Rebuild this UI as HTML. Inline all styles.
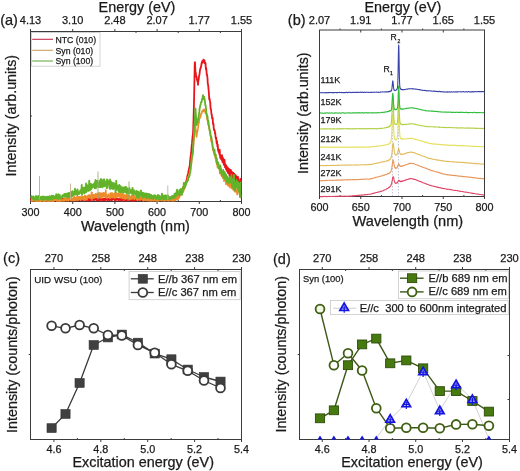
<!DOCTYPE html>
<html><head><meta charset="utf-8"><title>Figure</title>
<style>html,body{margin:0;padding:0;background:#fff;overflow:hidden}svg{display:block}</style>
</head><body>
<svg width="520" height="471" viewBox="0 0 520 471" font-family="&quot;Liberation Sans&quot;, Arial, sans-serif" fill="#1a1a1a">
<rect width="520" height="471" fill="#ffffff"/>
<rect x="30.5" y="31.5" width="211.0" height="170.0" fill="none" stroke="#3c3c3c" stroke-width="1"/>
<line x1="30.5" y1="116" x2="32.0" y2="116" stroke="#3c3c3c" stroke-width="1"/>
<line x1="30.50" y1="201.5" x2="30.50" y2="204.0" stroke="#3c3c3c" stroke-width="1"/>
<line x1="30.50" y1="31.5" x2="30.50" y2="29.0" stroke="#3c3c3c" stroke-width="1"/>
<line x1="72.70" y1="201.5" x2="72.70" y2="204.0" stroke="#3c3c3c" stroke-width="1"/>
<line x1="72.70" y1="31.5" x2="72.70" y2="29.0" stroke="#3c3c3c" stroke-width="1"/>
<line x1="114.90" y1="201.5" x2="114.90" y2="204.0" stroke="#3c3c3c" stroke-width="1"/>
<line x1="114.90" y1="31.5" x2="114.90" y2="29.0" stroke="#3c3c3c" stroke-width="1"/>
<line x1="157.10" y1="201.5" x2="157.10" y2="204.0" stroke="#3c3c3c" stroke-width="1"/>
<line x1="157.10" y1="31.5" x2="157.10" y2="29.0" stroke="#3c3c3c" stroke-width="1"/>
<line x1="199.30" y1="201.5" x2="199.30" y2="204.0" stroke="#3c3c3c" stroke-width="1"/>
<line x1="199.30" y1="31.5" x2="199.30" y2="29.0" stroke="#3c3c3c" stroke-width="1"/>
<line x1="241.50" y1="201.5" x2="241.50" y2="204.0" stroke="#3c3c3c" stroke-width="1"/>
<line x1="241.50" y1="31.5" x2="241.50" y2="29.0" stroke="#3c3c3c" stroke-width="1"/>
<line x1="51.60" y1="201.5" x2="51.60" y2="200.0" stroke="#3c3c3c" stroke-width="1"/>
<line x1="51.60" y1="31.5" x2="51.60" y2="33.0" stroke="#3c3c3c" stroke-width="1"/>
<line x1="93.80" y1="201.5" x2="93.80" y2="200.0" stroke="#3c3c3c" stroke-width="1"/>
<line x1="93.80" y1="31.5" x2="93.80" y2="33.0" stroke="#3c3c3c" stroke-width="1"/>
<line x1="136.00" y1="201.5" x2="136.00" y2="200.0" stroke="#3c3c3c" stroke-width="1"/>
<line x1="136.00" y1="31.5" x2="136.00" y2="33.0" stroke="#3c3c3c" stroke-width="1"/>
<line x1="178.20" y1="201.5" x2="178.20" y2="200.0" stroke="#3c3c3c" stroke-width="1"/>
<line x1="178.20" y1="31.5" x2="178.20" y2="33.0" stroke="#3c3c3c" stroke-width="1"/>
<line x1="220.40" y1="201.5" x2="220.40" y2="200.0" stroke="#3c3c3c" stroke-width="1"/>
<line x1="220.40" y1="31.5" x2="220.40" y2="33.0" stroke="#3c3c3c" stroke-width="1"/>
<polyline points="31.00,198.50 31.25,200.42 31.50,198.78 31.75,200.42 32.00,199.12 32.25,199.35 32.50,200.17 32.75,199.32 33.00,199.61 33.25,198.54 33.50,200.03 33.75,199.59 34.00,199.16 34.25,200.10 34.50,199.11 34.75,199.42 35.00,198.77 35.25,200.35 35.50,198.91 35.75,199.49 36.00,200.03 36.25,199.07 36.50,199.49 36.75,200.50 37.00,200.46 37.25,199.98 37.50,199.61 37.75,199.07 38.00,198.83 38.25,200.48 38.50,198.64 38.75,198.74 39.00,199.78 39.25,200.09 39.50,199.76 39.75,200.38 40.00,198.59 40.25,199.59 40.50,199.45 40.75,198.64 41.00,199.82 41.25,200.25 41.50,199.73 41.75,199.05 42.00,200.23 42.25,199.56 42.50,199.56 42.75,200.06 43.00,198.82 43.25,200.19 43.50,199.92 43.75,200.13 44.00,198.92 44.25,200.16 44.50,198.92 44.75,198.69 45.00,200.27 45.25,200.29 45.50,200.32 45.75,199.49 46.00,199.38 46.25,198.55 46.50,199.85 46.75,200.00 47.00,200.24 47.25,199.11 47.50,198.98 47.75,199.84 48.00,200.18 48.25,200.51 48.50,198.85 48.75,199.52 49.00,200.37 49.25,199.41 49.50,199.75 49.75,198.59 50.00,199.92 50.25,200.42 50.50,200.23 50.75,199.13 51.00,199.90 51.25,199.05 51.50,200.12 51.75,198.98 52.00,200.25 52.25,198.68 52.50,200.24 52.75,198.89 53.00,199.32 53.25,199.20 53.50,199.97 53.75,198.92 54.00,199.37 54.25,198.57 54.50,199.10 54.75,199.42 55.00,198.78 55.25,199.86 55.50,199.34 55.75,200.04 56.00,199.90 56.25,199.45 56.50,200.34 56.75,199.86 57.00,200.22 57.25,199.27 57.50,199.68 57.75,198.97 58.00,200.61 58.25,199.07 58.50,199.10 58.75,198.72 59.00,199.10 59.25,200.13 59.50,200.00 59.75,198.84 60.00,199.35 60.25,199.44 60.50,199.94 60.75,199.51 61.00,199.77 61.25,200.29 61.50,200.06 61.75,199.45 62.00,199.49 62.25,199.32 62.50,198.80 62.75,198.99 63.00,199.15 63.25,199.21 63.50,199.21 63.75,199.75 64.00,200.55 64.25,198.37 64.50,200.18 64.75,200.12 65.00,199.78 65.25,200.44 65.50,199.97 65.75,199.58 66.00,198.84 66.25,199.56 66.50,199.00 66.75,198.83 67.00,199.59 67.25,200.16 67.50,199.16 67.75,200.13 68.00,199.63 68.25,198.86 68.50,200.52 68.75,199.37 69.00,199.16 69.25,200.28 69.50,198.81 69.75,200.05 70.00,198.93 70.25,199.13 70.50,199.02 70.75,200.27 71.00,199.34 71.25,200.54 71.50,199.82 71.75,199.96 72.00,199.61 72.25,199.18 72.50,199.35 72.75,200.46 73.00,198.95 73.25,200.56 73.50,200.09 73.75,199.27 74.00,199.85 74.25,199.32 74.50,199.32 74.75,197.81 75.00,198.57 75.25,199.54 75.50,200.52 75.75,199.12 76.00,200.06 76.25,199.44 76.50,197.56 76.75,200.38 77.00,198.57 77.25,199.15 77.50,200.57 77.75,199.06 78.00,200.26 78.25,199.76 78.50,200.17 78.75,199.57 79.00,199.27 79.25,200.08 79.50,198.58 79.75,199.44 80.00,199.28 80.25,199.50 80.50,198.78 80.75,198.97 81.00,199.67 81.25,199.31 81.50,200.13 81.75,199.75 82.00,200.27 82.25,200.01 82.50,199.74 82.75,199.10 83.00,200.11 83.25,199.03 83.50,198.67 83.75,200.48 84.00,199.61 84.25,200.09 84.50,199.59 84.75,199.76 85.00,198.58 85.25,198.89 85.50,199.88 85.75,199.67 86.00,198.83 86.25,200.45 86.50,198.82 86.75,199.54 87.00,198.80 87.25,199.97 87.50,199.07 87.75,198.20 88.00,200.27 88.25,198.86 88.50,198.89 88.75,199.59 89.00,199.42 89.25,200.45 89.50,200.44 89.75,200.12 90.00,199.86 90.25,197.56 90.50,200.41 90.75,198.54 91.00,198.73 91.25,199.23 91.50,198.68 91.75,199.71 92.00,199.02 92.25,199.03 92.50,199.08 92.75,198.69 93.00,200.00 93.25,199.81 93.50,199.72 93.75,198.55 94.00,199.36 94.25,199.88 94.50,198.80 94.75,199.27 95.00,198.52 95.25,198.65 95.50,198.92 95.75,199.33 96.00,199.43 96.25,200.29 96.50,199.13 96.75,198.53 97.00,200.17 97.25,198.61 97.50,198.68 97.75,200.45 98.00,200.02 98.25,199.18 98.50,198.76 98.75,199.28 99.00,199.18 99.25,200.27 99.50,199.35 99.75,198.66 100.00,200.38 100.25,199.76 100.50,198.73 100.75,198.73 101.00,199.45 101.25,198.68 101.50,199.79 101.75,199.75 102.00,198.56 102.25,200.15 102.50,200.10 102.75,200.37 103.00,199.87 103.25,199.91 103.50,198.84 103.75,198.55 104.00,198.64 104.25,200.47 104.50,199.82 104.75,200.44 105.00,199.22 105.25,200.05 105.50,198.64 105.75,198.85 106.00,199.07 106.25,199.63 106.50,199.65 106.75,199.53 107.00,199.38 107.25,199.69 107.50,200.48 107.75,198.27 108.00,200.22 108.25,198.63 108.50,199.30 108.75,199.66 109.00,199.78 109.25,199.03 109.50,199.33 109.75,200.45 110.00,199.84 110.25,199.71 110.50,199.69 110.75,198.63 111.00,198.95 111.25,197.96 111.50,200.53 111.75,198.53 112.00,199.27 112.25,198.64 112.50,199.83 112.75,198.97 113.00,198.66 113.25,198.69 113.50,199.08 113.75,198.54 114.00,198.44 114.25,199.07 114.50,199.11 114.75,200.21 115.00,200.05 115.25,198.79 115.50,200.18 115.75,200.23 116.00,198.90 116.25,199.81 116.50,198.94 116.75,198.33 117.00,199.54 117.25,199.60 117.50,199.51 117.75,199.64 118.00,198.97 118.25,200.13 118.50,199.11 118.75,200.40 119.00,199.59 119.25,199.16 119.50,198.90 119.75,199.53 120.00,199.31 120.25,199.81 120.50,199.56 120.75,198.62 121.00,200.24 121.25,198.65 121.50,200.92 121.75,200.20 122.00,200.43 122.25,199.90 122.50,198.88 122.75,199.45 123.00,199.45 123.25,199.84 123.50,199.33 123.75,199.93 124.00,198.97 124.25,199.27 124.50,199.66 124.75,199.43 125.00,198.80 125.25,200.53 125.50,198.65 125.75,200.26 126.00,199.29 126.25,200.49 126.50,200.22 126.75,200.56 127.00,198.96 127.25,199.53 127.50,199.35 127.75,199.81 128.00,199.07 128.25,198.77 128.50,199.54 128.75,199.87 129.00,199.35 129.25,197.96 129.50,199.39 129.75,199.18 130.00,200.23 130.25,199.52 130.50,199.13 130.75,199.15 131.00,200.50 131.25,200.53 131.50,199.89 131.75,199.14 132.00,200.02 132.25,200.74 132.50,199.23 132.75,198.11 133.00,199.39 133.25,200.12 133.50,200.56 133.75,198.92 134.00,199.83 134.25,198.66 134.50,198.77 134.75,199.01 135.00,200.60 135.25,200.06 135.50,200.35 135.75,198.67 136.00,199.96 136.25,199.46 136.50,199.41 136.75,200.01 137.00,199.19 137.25,199.60 137.50,199.09 137.75,199.35 138.00,199.64 138.25,199.82 138.50,199.11 138.75,199.40 139.00,200.02 139.25,200.17 139.50,199.85 139.75,199.68 140.00,200.30 140.25,198.93 140.50,198.74 140.75,199.33 141.00,198.80 141.25,199.65 141.50,199.69 141.75,200.18 142.00,199.97 142.25,199.64 142.50,199.37 142.75,200.37 143.00,200.25 143.25,198.95 143.50,198.83 143.75,200.36 144.00,198.81 144.25,200.03 144.50,199.12 144.75,199.22 145.00,199.61 145.25,198.08 145.50,198.48 145.75,198.80 146.00,199.94 146.25,199.27 146.50,199.05 146.75,200.43 147.00,199.00 147.25,199.91 147.50,200.42 147.75,200.01 148.00,199.90 148.25,199.92 148.50,200.09 148.75,199.00 149.00,197.55 149.25,200.08 149.50,200.25 149.75,200.28 150.00,200.27 150.25,198.63 150.50,199.19 150.75,199.35 151.00,200.24 151.25,199.27 151.50,198.96 151.75,198.45 152.00,199.00 152.25,200.00 152.50,198.45 152.75,198.74 153.00,199.03 153.25,198.88 153.50,199.14 153.75,200.19 154.00,198.81 154.25,199.53 154.50,199.97 154.75,200.28 155.00,200.16 155.25,198.91 155.50,199.99 155.75,199.75 156.00,199.23 156.25,198.42 156.50,198.71 156.75,199.89 157.00,198.53 157.25,199.00 157.50,198.88 157.75,198.16 158.00,199.08 158.25,198.53 158.50,199.10 158.75,199.01 159.00,199.80 159.25,198.99 159.50,199.75 159.75,200.13 160.00,200.14 160.25,199.82 160.50,199.16 160.75,199.31 161.00,199.28 161.25,200.10 161.50,198.60 161.75,199.18 162.00,199.40 162.25,199.20 162.50,199.52 162.75,197.66 163.00,199.14 163.25,199.70 163.50,198.97 163.75,199.53 164.00,199.78 164.25,198.55 164.50,198.95 164.75,198.99 165.00,200.25 165.25,200.30 165.50,198.36 165.75,199.96 166.00,200.18 166.25,200.11 166.50,199.72 166.75,199.64 167.00,199.73 167.25,199.43 167.50,199.86 167.75,199.07 168.00,198.71 168.25,198.44 168.50,200.10 168.75,199.78 169.00,198.60 169.25,199.92 169.50,198.85 169.75,199.53 170.00,197.24 170.25,198.66 170.50,198.58 170.75,198.37 171.00,198.37 171.25,198.36 171.50,198.40 171.75,199.91 172.00,199.27 172.25,198.47 172.50,199.28 172.75,199.31 173.00,199.21 173.25,198.62 173.50,199.08 173.75,199.97 174.00,198.97 174.25,199.22 174.50,200.08 174.75,198.66 175.00,199.98 175.25,198.98 175.50,199.42 175.75,198.36 176.00,198.55 176.25,198.01 176.50,198.85 176.75,198.76 177.00,198.00 177.25,198.53 177.50,197.84 177.75,197.86 178.00,197.81 178.25,196.12 178.50,195.37 178.75,195.53 179.00,195.33 179.25,194.26 179.50,195.16 179.75,193.64 180.00,194.05 180.25,191.77 180.50,192.53 180.75,192.18 181.00,191.46 181.25,190.63 181.50,191.72 181.75,191.61 182.00,189.63 182.25,188.99 182.50,188.85 182.75,187.80 183.00,187.49 183.25,187.36 183.50,186.66 183.75,187.44 184.00,186.84 184.25,186.45 184.50,185.97 184.75,184.75 185.00,184.07 185.25,182.61 185.50,183.10 185.75,182.58 186.00,182.75 186.25,181.37 186.50,179.99 186.75,179.20 187.00,179.11 187.25,176.67 187.50,175.54 187.75,174.50 188.00,173.95 188.25,173.20 188.50,170.73 188.75,170.29 189.00,168.94 189.25,167.55 189.50,166.62 189.75,165.88 190.00,162.42 190.25,160.49 190.50,157.18 190.75,155.53 191.00,153.59 191.25,151.52 191.50,147.95 191.75,145.09 192.00,143.16 192.25,140.24 192.50,137.22 192.75,135.55 193.00,133.61 193.25,128.00 193.50,120.18 193.75,110.93 194.00,102.69 194.25,90.42 194.50,76.44 194.75,62.55 195.00,62.17 195.25,68.07 195.50,72.43 195.75,72.59 196.00,74.67 196.25,76.25 196.50,77.68 196.75,77.31 197.00,79.86 197.25,80.96 197.50,79.68 197.75,82.25 198.00,84.93 198.25,81.97 198.50,80.16 198.75,79.20 199.00,76.25 199.25,75.22 199.50,74.77 199.75,71.84 200.00,70.21 200.25,69.04 200.50,67.82 200.75,68.04 201.00,66.46 201.25,66.20 201.50,63.30 201.75,63.66 202.00,61.80 202.25,61.09 202.50,61.93 202.75,62.56 203.00,61.88 203.25,60.02 203.50,59.57 203.75,61.02 204.00,60.91 204.25,62.06 204.50,60.33 204.75,63.34 205.00,62.52 205.25,62.59 205.50,63.45 205.75,67.74 206.00,69.63 206.25,68.50 206.50,71.32 206.75,74.81 207.00,74.26 207.25,76.24 207.50,78.26 207.75,83.80 208.00,84.10 208.25,86.41 208.50,88.87 208.75,91.14 209.00,95.22 209.25,99.41 209.50,98.16 209.75,100.26 210.00,101.07 210.25,102.39 210.50,107.57 210.75,109.31 211.00,109.26 211.25,112.01 211.50,114.55 211.75,114.16 212.00,117.20 212.25,118.95 212.50,117.34 212.75,119.14 213.00,123.58 213.25,124.91 213.50,123.94 213.75,128.60 214.00,130.02 214.25,129.25 214.50,130.01 214.75,130.69 215.00,133.56 215.25,133.02 215.50,136.44 215.75,138.05 216.00,139.01 216.25,137.49 216.50,141.52 216.75,143.32 217.00,141.10 217.25,144.65 217.50,146.98 217.75,144.60 218.00,149.71 218.25,151.15 218.50,150.77 218.75,152.49 219.00,149.62 219.25,152.48 219.50,154.61 219.75,150.00 220.00,155.19 220.25,158.03 220.50,156.26 220.75,155.27 221.00,159.06 221.25,155.59 221.50,156.48 221.75,160.02 222.00,155.26 222.25,156.37 222.50,162.14 222.75,162.36 223.00,158.02 223.25,160.78 223.50,159.84 223.75,164.44 224.00,165.01 224.25,159.62 224.50,159.98 224.75,162.58 225.00,167.16 225.25,166.69 225.50,164.39 225.75,168.13 226.00,168.92 226.25,165.52 226.50,169.91 226.75,170.80 227.00,170.19 227.25,168.22 227.50,167.26 227.75,172.83 228.00,169.16 228.25,168.26 228.50,170.30 228.75,172.97 229.00,173.84 229.25,169.22 229.50,175.81 229.75,174.04 230.00,169.64 230.25,175.86 230.50,177.19 230.75,176.44 231.00,170.26 231.25,174.16 231.50,175.35 231.75,178.00 232.00,175.22 232.25,172.08 232.50,179.25 232.75,179.69 233.00,176.18 233.25,172.91 233.50,179.64 233.75,179.13 234.00,181.32 234.25,173.55 234.50,175.07 234.75,176.40 235.00,175.17 235.25,180.74 235.50,177.60 235.75,175.21 236.00,176.24 236.25,182.31 236.50,180.80 236.75,177.60 237.00,182.07 237.25,176.67 237.50,186.17 237.75,182.41 238.00,176.79 238.25,181.58 238.50,183.77 238.75,184.30 239.00,184.06 239.25,185.95 239.50,185.00 239.75,186.78 240.00,182.29 240.25,178.94 240.50,180.53 240.75,181.76" fill="none" stroke="#e8161b" stroke-width="1.8" stroke-linejoin="round" />
<polyline points="31.00,199.98 31.25,200.06 31.50,201.18 31.75,199.61 32.00,200.71 32.25,200.99 32.50,199.81 32.75,199.52 33.00,200.00 33.25,200.83 33.50,200.62 33.75,199.72 34.00,200.33 34.25,198.83 34.50,200.31 34.75,200.77 35.00,201.20 35.25,200.87 35.50,200.23 35.75,199.78 36.00,200.13 36.25,200.49 36.50,201.20 36.75,201.07 37.00,200.06 37.25,201.20 37.50,200.39 37.75,200.88 38.00,199.59 38.25,199.58 38.50,199.79 38.75,201.20 39.00,200.84 39.25,201.20 39.50,200.76 39.75,200.23 40.00,200.47 40.25,200.64 40.50,201.20 40.75,200.30 41.00,201.20 41.25,200.68 41.50,201.16 41.75,200.42 42.00,200.85 42.25,200.06 42.50,200.47 42.75,199.79 43.00,199.53 43.25,199.39 43.50,200.86 43.75,200.31 44.00,201.20 44.25,201.16 44.50,200.15 44.75,201.20 45.00,200.61 45.25,201.00 45.50,200.19 45.75,199.72 46.00,199.66 46.25,199.68 46.50,200.63 46.75,199.52 47.00,199.31 47.25,201.14 47.50,199.48 47.75,200.27 48.00,200.36 48.25,200.65 48.50,200.39 48.75,201.20 49.00,199.75 49.25,200.54 49.50,200.64 49.75,200.39 50.00,201.20 50.25,199.75 50.50,200.79 50.75,200.49 51.00,199.32 51.25,199.90 51.50,201.20 51.75,201.00 52.00,199.25 52.25,199.89 52.50,199.23 52.75,201.10 53.00,199.46 53.25,199.34 53.50,201.20 53.75,200.22 54.00,199.93 54.25,199.31 54.50,200.08 54.75,200.03 55.00,200.39 55.25,199.20 55.50,199.52 55.75,199.66 56.00,200.19 56.25,199.87 56.50,200.59 56.75,199.83 57.00,201.20 57.25,201.20 57.50,199.30 57.75,199.64 58.00,200.46 58.25,200.94 58.50,199.30 58.75,199.58 59.00,200.21 59.25,200.70 59.50,201.20 59.75,201.15 60.00,200.98 60.25,199.37 60.50,201.20 60.75,200.47 61.00,199.16 61.25,199.53 61.50,200.40 61.75,199.78 62.00,199.90 62.25,200.78 62.50,200.80 62.75,200.06 63.00,200.67 63.25,199.62 63.50,200.69 63.75,200.08 64.00,201.04 64.25,198.48 64.50,200.76 64.75,199.83 65.00,200.24 65.25,198.72 65.50,199.71 65.75,198.92 66.00,198.34 66.25,198.01 66.50,200.66 66.75,199.27 67.00,199.29 67.25,198.66 67.50,196.74 67.75,200.32 68.00,198.16 68.25,200.75 68.50,200.66 68.75,198.47 69.00,199.68 69.25,198.78 69.50,199.82 69.75,197.87 70.00,199.06 70.25,199.42 70.50,199.52 70.75,199.72 71.00,200.35 71.25,198.20 71.50,197.89 71.75,198.65 72.00,199.21 72.25,200.50 72.50,199.65 72.75,199.73 73.00,200.50 73.25,198.09 73.50,198.03 73.75,198.57 74.00,198.11 74.25,196.38 74.50,200.35 74.75,197.54 75.00,198.79 75.25,199.34 75.50,198.66 75.75,200.14 76.00,199.49 76.25,200.00 76.50,197.19 76.75,197.47 77.00,196.97 77.25,199.74 77.50,200.22 77.75,196.69 78.00,196.40 78.25,199.30 78.50,199.96 78.75,197.54 79.00,199.20 79.25,197.37 79.50,196.72 79.75,199.26 80.00,196.54 80.25,199.04 80.50,197.39 80.75,198.93 81.00,199.72 81.25,197.12 81.50,197.98 81.75,197.49 82.00,196.79 82.25,197.90 82.50,196.67 82.75,199.18 83.00,198.39 83.25,196.97 83.50,199.83 83.75,197.16 84.00,199.77 84.25,198.74 84.50,196.71 84.75,195.57 85.00,200.12 85.25,199.61 85.50,199.50 85.75,196.02 86.00,199.29 86.25,197.92 86.50,199.35 86.75,199.52 87.00,199.61 87.25,196.19 87.50,197.78 87.75,197.00 88.00,196.01 88.25,195.20 88.50,195.64 88.75,197.63 89.00,195.17 89.25,195.43 89.50,194.88 89.75,197.62 90.00,196.96 90.25,195.71 90.50,197.05 90.75,196.51 91.00,197.64 91.25,198.97 91.50,192.21 91.75,197.47 92.00,192.57 92.25,198.91 92.50,197.23 92.75,194.83 93.00,195.29 93.25,194.73 93.50,194.79 93.75,195.42 94.00,198.11 94.25,196.13 94.50,195.13 94.75,195.85 95.00,194.99 95.25,197.49 95.50,193.76 95.75,194.98 96.00,195.12 96.25,194.29 96.50,197.36 96.75,194.19 97.00,194.82 97.25,193.39 97.50,197.33 97.75,195.06 98.00,196.70 98.25,194.12 98.50,192.94 98.75,194.65 99.00,197.29 99.25,197.61 99.50,194.68 99.75,197.61 100.00,192.81 100.25,195.63 100.50,194.03 100.75,195.12 101.00,193.81 101.25,197.84 101.50,194.28 101.75,198.15 102.00,193.11 102.25,195.03 102.50,195.11 102.75,196.71 103.00,194.50 103.25,195.39 103.50,192.83 103.75,194.28 104.00,196.78 104.25,193.03 104.50,195.18 104.75,193.81 105.00,193.37 105.25,193.10 105.50,197.30 105.75,189.95 106.00,194.65 106.25,194.72 106.50,196.76 106.75,196.00 107.00,197.90 107.25,197.91 107.50,195.24 107.75,196.32 108.00,195.61 108.25,194.17 108.50,195.05 108.75,196.68 109.00,195.64 109.25,196.13 109.50,195.23 109.75,198.08 110.00,196.99 110.25,193.05 110.50,197.25 110.75,197.89 111.00,197.28 111.25,194.41 111.50,194.57 111.75,193.83 112.00,192.70 112.25,195.24 112.50,197.55 112.75,197.06 113.00,196.43 113.25,197.55 113.50,196.43 113.75,193.83 114.00,197.32 114.25,196.70 114.50,197.85 114.75,194.50 115.00,193.12 115.25,196.93 115.50,193.25 115.75,197.78 116.00,195.08 116.25,197.27 116.50,192.99 116.75,195.90 117.00,196.69 117.25,193.49 117.50,196.31 117.75,196.71 118.00,194.56 118.25,194.93 118.50,196.42 118.75,193.59 119.00,193.92 119.25,191.48 119.50,197.02 119.75,195.52 120.00,194.54 120.25,192.75 120.50,195.68 120.75,194.82 121.00,198.04 121.25,194.27 121.50,197.69 121.75,196.67 122.00,196.85 122.25,197.08 122.50,191.90 122.75,198.23 123.00,198.47 123.25,194.85 123.50,194.39 123.75,198.40 124.00,194.68 124.25,194.82 124.50,197.97 124.75,198.85 125.00,198.23 125.25,196.52 125.50,195.81 125.75,199.05 126.00,197.75 126.25,197.22 126.50,194.05 126.75,195.04 127.00,194.15 127.25,198.74 127.50,195.36 127.75,195.07 128.00,197.18 128.25,195.30 128.50,197.05 128.75,199.08 129.00,198.68 129.25,195.66 129.50,198.98 129.75,196.48 130.00,197.11 130.25,196.20 130.50,199.47 130.75,199.19 131.00,198.28 131.25,197.76 131.50,198.12 131.75,195.45 132.00,197.49 132.25,198.82 132.50,198.19 132.75,196.07 133.00,195.48 133.25,196.76 133.50,198.64 133.75,195.52 134.00,195.67 134.25,198.36 134.50,199.36 134.75,197.88 135.00,198.33 135.25,196.82 135.50,196.93 135.75,197.82 136.00,197.32 136.25,197.81 136.50,197.06 136.75,199.78 137.00,198.71 137.25,196.55 137.50,196.99 137.75,199.52 138.00,197.79 138.25,197.40 138.50,196.55 138.75,199.06 139.00,198.70 139.25,199.74 139.50,197.30 139.75,199.48 140.00,199.78 140.25,199.80 140.50,199.54 140.75,198.49 141.00,197.13 141.25,199.26 141.50,197.14 141.75,197.39 142.00,198.54 142.25,197.59 142.50,198.75 142.75,200.12 143.00,197.89 143.25,199.99 143.50,200.67 143.75,196.55 144.00,198.85 144.25,199.80 144.50,199.90 144.75,198.50 145.00,200.20 145.25,198.85 145.50,198.85 145.75,199.37 146.00,199.69 146.25,200.40 146.50,199.90 146.75,198.20 147.00,199.70 147.25,199.05 147.50,200.13 147.75,198.26 148.00,200.05 148.25,200.43 148.50,198.28 148.75,198.21 149.00,200.72 149.25,200.73 149.50,198.67 149.75,200.80 150.00,199.33 150.25,199.65 150.50,199.51 150.75,199.12 151.00,200.69 151.25,199.90 151.50,200.83 151.75,199.94 152.00,200.80 152.25,199.63 152.50,199.51 152.75,199.79 153.00,198.16 153.25,200.35 153.50,199.84 153.75,200.85 154.00,198.27 154.25,200.18 154.50,200.35 154.75,199.69 155.00,198.41 155.25,197.10 155.50,199.06 155.75,198.96 156.00,200.12 156.25,200.93 156.50,198.41 156.75,199.38 157.00,200.07 157.25,198.92 157.50,200.79 157.75,199.86 158.00,201.19 158.25,198.57 158.50,198.53 158.75,199.43 159.00,200.74 159.25,198.44 159.50,198.55 159.75,200.06 160.00,199.77 160.25,199.35 160.50,199.32 160.75,198.53 161.00,200.49 161.25,199.49 161.50,200.61 161.75,198.19 162.00,199.43 162.25,199.17 162.50,199.92 162.75,200.10 163.00,199.61 163.25,198.56 163.50,200.07 163.75,200.69 164.00,200.34 164.25,200.90 164.50,199.80 164.75,199.00 165.00,198.73 165.25,200.41 165.50,200.44 165.75,199.93 166.00,200.35 166.25,199.49 166.50,200.55 166.75,200.10 167.00,198.78 167.25,197.85 167.50,199.98 167.75,198.66 168.00,200.80 168.25,200.42 168.50,198.49 168.75,198.71 169.00,198.07 169.25,200.80 169.50,198.57 169.75,200.49 170.00,199.55 170.25,198.22 170.50,198.67 170.75,198.81 171.00,200.29 171.25,199.13 171.50,198.47 171.75,200.82 172.00,199.55 172.25,198.24 172.50,200.89 172.75,200.02 173.00,199.33 173.25,198.47 173.50,200.07 173.75,198.32 174.00,200.79 174.25,200.24 174.50,200.13 174.75,200.29 175.00,200.57 175.25,199.20 175.50,198.60 175.75,197.58 176.00,199.41 176.25,199.43 176.50,197.19 176.75,196.54 177.00,199.63 177.25,199.39 177.50,195.76 177.75,197.71 178.00,195.58 178.25,195.45 178.50,198.88 178.75,197.35 179.00,197.69 179.25,194.89 179.50,197.47 179.75,196.08 180.00,191.52 180.25,195.00 180.50,193.01 180.75,194.65 181.00,191.68 181.25,192.81 181.50,194.82 181.75,192.93 182.00,192.33 182.25,188.85 182.50,192.72 182.75,191.01 183.00,189.80 183.25,191.98 183.50,191.49 183.75,188.59 184.00,189.55 184.25,189.39 184.50,184.16 184.75,188.23 185.00,187.06 185.25,186.44 185.50,184.10 185.75,183.89 186.00,183.93 186.25,182.78 186.50,182.69 186.75,180.83 187.00,181.28 187.25,180.62 187.50,180.03 187.75,178.09 188.00,178.64 188.25,176.41 188.50,176.44 188.75,176.72 189.00,175.17 189.25,174.34 189.50,173.05 189.75,173.12 190.00,171.98 190.25,170.79 190.50,168.77 190.75,166.54 191.00,164.54 191.25,165.24 191.50,162.30 191.75,159.50 192.00,158.25 192.25,157.38 192.50,154.67 192.75,154.67 193.00,152.10 193.25,148.71 193.50,144.92 193.75,139.89 194.00,138.10 194.25,134.13 194.50,128.60 194.75,125.93 195.00,122.07 195.25,124.18 195.50,127.02 195.75,129.39 196.00,133.00 196.25,135.61 196.50,136.98 196.75,135.69 197.00,133.89 197.25,130.63 197.50,131.69 197.75,129.66 198.00,128.44 198.25,127.04 198.50,122.83 198.75,122.35 199.00,123.05 199.25,119.46 199.50,117.99 199.75,118.17 200.00,118.30 200.25,115.62 200.50,115.63 200.75,116.20 201.00,113.65 201.25,113.48 201.50,113.82 201.75,113.78 202.00,111.34 202.25,111.55 202.50,111.41 202.75,110.71 203.00,110.09 203.25,111.33 203.50,111.37 203.75,109.47 204.00,109.65 204.25,110.09 204.50,109.40 204.75,109.58 205.00,111.17 205.25,112.89 205.50,111.70 205.75,112.06 206.00,113.82 206.25,113.55 206.50,115.66 206.75,115.66 207.00,119.23 207.25,118.25 207.50,121.12 207.75,121.74 208.00,124.11 208.25,124.59 208.50,124.99 208.75,126.20 209.00,127.55 209.25,128.74 209.50,130.15 209.75,131.60 210.00,133.92 210.25,133.86 210.50,134.61 210.75,137.15 211.00,140.31 211.25,141.65 211.50,140.62 211.75,141.28 212.00,143.08 212.25,143.73 212.50,145.50 212.75,149.44 213.00,150.28 213.25,149.50 213.50,150.85 213.75,152.43 214.00,153.38 214.25,154.30 214.50,155.44 214.75,155.76 215.00,154.68 215.25,158.08 215.50,154.18 215.75,157.60 216.00,158.68 216.25,161.66 216.50,161.43 216.75,164.39 217.00,162.79 217.25,165.61 217.50,167.75 217.75,164.67 218.00,165.94 218.25,166.76 218.50,167.22 218.75,166.31 219.00,167.50 219.25,169.51 219.50,168.33 219.75,173.38 220.00,170.23 220.25,170.90 220.50,169.99 220.75,173.62 221.00,170.16 221.25,175.44 221.50,173.91 221.75,176.39 222.00,174.60 222.25,173.92 222.50,174.47 222.75,178.20 223.00,176.26 223.25,175.96 223.50,174.98 223.75,175.39 224.00,181.29 224.25,178.11 224.50,180.59 224.75,176.60 225.00,178.94 225.25,177.16 225.50,178.17 225.75,179.96 226.00,184.40 226.25,178.12 226.50,181.46 226.75,182.40 227.00,181.48 227.25,178.79 227.50,183.04 227.75,185.19 228.00,183.97 228.25,186.02 228.50,184.54 228.75,181.92 229.00,185.49 229.25,184.11 229.50,180.98 229.75,183.16 230.00,187.63 230.25,185.79 230.50,183.97 230.75,186.72 231.00,186.80 231.25,178.97 231.50,185.67 231.75,188.53 232.00,183.57 232.25,187.11 232.50,184.07 232.75,185.45 233.00,189.46 233.25,186.46 233.50,190.31 233.75,189.75 234.00,189.23 234.25,185.53 234.50,188.14 234.75,191.79 235.00,189.99 235.25,185.56 235.50,186.74 235.75,188.33 236.00,189.57 236.25,189.15 236.50,192.71 236.75,190.52 237.00,193.50 237.25,194.52 237.50,194.23 237.75,193.36 238.00,187.03 238.25,187.03 238.50,188.69 238.75,186.52 239.00,190.18 239.25,188.87 239.50,183.90 239.75,194.84 240.00,190.00 240.25,193.03 240.50,197.54 240.75,195.37" fill="none" stroke="#ee8c2a" stroke-width="1.6" stroke-linejoin="round" />
<polyline points="31.00,196.31 31.25,196.93 31.50,196.05 31.75,198.34 32.00,196.34 32.25,197.73 32.50,197.91 32.75,196.61 33.00,198.96 33.25,196.42 33.50,197.56 33.75,198.07 34.00,197.72 34.25,198.35 34.50,198.97 34.75,199.86 35.00,197.12 35.25,198.61 35.50,198.80 35.75,197.15 36.00,195.97 36.25,199.93 36.50,197.18 36.75,197.24 37.00,199.60 37.25,198.35 37.50,197.88 37.75,199.11 38.00,196.08 38.25,198.84 38.50,197.49 38.75,196.03 39.00,198.65 39.25,199.76 39.50,196.81 39.75,198.53 40.00,197.18 40.25,198.99 40.50,198.91 40.75,196.85 41.00,199.35 41.25,198.64 41.50,196.86 41.75,199.31 42.00,197.71 42.25,199.06 42.50,199.54 42.75,196.38 43.00,199.43 43.25,196.93 43.50,197.92 43.75,196.56 44.00,198.81 44.25,197.15 44.50,199.51 44.75,197.08 45.00,198.25 45.25,197.59 45.50,198.46 45.75,196.76 46.00,196.70 46.25,199.01 46.50,199.03 46.75,198.27 47.00,199.72 47.25,196.80 47.50,199.43 47.75,196.65 48.00,199.89 48.25,198.50 48.50,198.44 48.75,199.92 49.00,199.17 49.25,199.18 49.50,196.18 49.75,197.47 50.00,196.31 50.25,196.72 50.50,196.76 50.75,199.38 51.00,196.34 51.25,197.00 51.50,199.60 51.75,195.76 52.00,199.69 52.25,198.59 52.50,196.49 52.75,197.85 53.00,198.49 53.25,195.70 53.50,198.32 53.75,196.97 54.00,197.88 54.25,198.19 54.50,198.16 54.75,197.50 55.00,197.61 55.25,196.04 55.50,197.29 55.75,195.66 56.00,197.17 56.25,194.07 56.50,198.38 56.75,196.69 57.00,195.02 57.25,197.22 57.50,195.77 57.75,198.54 58.00,196.51 58.25,194.22 58.50,198.76 58.75,196.43 59.00,196.20 59.25,196.16 59.50,196.73 59.75,194.95 60.00,196.96 60.25,198.62 60.50,196.97 60.75,197.76 61.00,198.66 61.25,198.15 61.50,197.68 61.75,197.97 62.00,197.97 62.25,195.30 62.50,196.29 62.75,195.58 63.00,195.14 63.25,196.52 63.50,195.27 63.75,196.62 64.00,196.39 64.25,194.05 64.50,195.60 64.75,195.28 65.00,196.75 65.25,193.68 65.50,194.01 65.75,195.62 66.00,195.03 66.25,196.26 66.50,194.54 66.75,193.80 67.00,197.42 67.25,193.90 67.50,193.34 67.75,193.94 68.00,194.18 68.25,193.53 68.50,195.06 68.75,197.07 69.00,192.81 69.25,194.25 69.50,195.50 69.75,196.58 70.00,197.13 70.25,192.54 70.50,194.56 70.75,196.32 71.00,191.82 71.25,194.62 71.50,192.31 71.75,195.46 72.00,196.32 72.25,194.07 72.50,191.08 72.75,191.30 73.00,193.17 73.25,195.51 73.50,192.02 73.75,194.38 74.00,192.82 74.25,191.95 74.50,194.38 74.75,192.04 75.00,188.69 75.25,194.53 75.50,192.90 75.75,194.51 76.00,192.88 76.25,190.72 76.50,192.31 76.75,194.78 77.00,192.89 77.25,195.20 77.50,189.35 77.75,191.30 78.00,193.82 78.25,193.24 78.50,192.40 78.75,192.96 79.00,194.19 79.25,192.93 79.50,192.01 79.75,192.03 80.00,192.61 80.25,190.38 80.50,192.48 80.75,192.06 81.00,193.07 81.25,191.05 81.50,188.05 81.75,184.78 82.00,195.05 82.25,191.73 82.50,191.72 82.75,189.99 83.00,191.10 83.25,191.99 83.50,187.66 83.75,192.83 84.00,192.83 84.25,193.34 84.50,187.70 84.75,187.47 85.00,192.68 85.25,189.18 85.50,188.13 85.75,188.75 86.00,183.51 86.25,192.26 86.50,189.05 86.75,190.14 87.00,190.44 87.25,185.18 87.50,190.84 87.75,187.95 88.00,187.81 88.25,188.61 88.50,186.36 88.75,190.77 89.00,185.53 89.25,180.74 89.50,184.88 89.75,188.18 90.00,190.27 90.25,189.99 90.50,183.98 90.75,187.70 91.00,189.70 91.25,184.03 91.50,185.60 91.75,187.87 92.00,187.94 92.25,185.47 92.50,186.89 92.75,187.02 93.00,184.28 93.25,186.65 93.50,185.90 93.75,186.79 94.00,185.10 94.25,183.48 94.50,184.19 94.75,188.27 95.00,181.79 95.25,185.99 95.50,179.98 95.75,187.22 96.00,188.32 96.25,181.53 96.50,181.66 96.75,180.92 97.00,184.40 97.25,183.35 97.50,186.36 97.75,180.83 98.00,186.85 98.25,183.10 98.50,186.19 98.75,186.12 99.00,187.09 99.25,183.35 99.50,184.34 99.75,183.88 100.00,180.50 100.25,183.31 100.50,187.16 100.75,186.98 101.00,178.90 101.25,184.72 101.50,181.64 101.75,179.89 102.00,179.90 102.25,185.86 102.50,187.35 102.75,183.33 103.00,182.06 103.25,183.20 103.50,186.11 103.75,185.34 104.00,179.07 104.25,180.41 104.50,186.40 104.75,182.95 105.00,184.45 105.25,185.64 105.50,184.46 105.75,185.44 106.00,183.84 106.25,181.10 106.50,180.84 106.75,188.15 107.00,179.51 107.25,187.66 107.50,187.43 107.75,181.82 108.00,180.34 108.25,183.52 108.50,183.03 108.75,184.28 109.00,184.09 109.25,183.01 109.50,181.68 109.75,188.80 110.00,179.42 110.25,188.94 110.50,183.96 110.75,187.36 111.00,181.44 111.25,185.24 111.50,187.25 111.75,186.94 112.00,188.50 112.25,183.28 112.50,185.39 112.75,187.20 113.00,182.59 113.25,189.15 113.50,185.90 113.75,184.64 114.00,184.56 114.25,188.03 114.50,183.39 114.75,185.04 115.00,185.60 115.25,185.35 115.50,192.43 115.75,188.12 116.00,190.59 116.25,180.54 116.50,186.13 116.75,186.45 117.00,185.04 117.25,186.04 117.50,188.84 117.75,189.87 118.00,186.74 118.25,187.20 118.50,190.66 118.75,191.88 119.00,185.61 119.25,184.83 119.50,190.68 119.75,188.88 120.00,188.46 120.25,190.00 120.50,190.94 120.75,186.09 121.00,192.46 121.25,192.47 121.50,189.62 121.75,189.11 122.00,187.78 122.25,190.03 122.50,187.41 122.75,189.76 123.00,192.37 123.25,189.65 123.50,191.92 123.75,190.25 124.00,192.39 124.25,187.21 124.50,187.88 124.75,191.40 125.00,188.59 125.25,187.39 125.50,187.23 125.75,192.06 126.00,186.88 126.25,187.18 126.50,193.22 126.75,192.16 127.00,189.45 127.25,188.31 127.50,192.85 127.75,192.36 128.00,191.62 128.25,190.78 128.50,190.83 128.75,193.88 129.00,190.98 129.25,188.22 129.50,188.25 129.75,191.70 130.00,192.66 130.25,192.07 130.50,192.87 130.75,190.12 131.00,190.69 131.25,190.11 131.50,190.87 131.75,190.30 132.00,193.90 132.25,189.75 132.50,187.86 132.75,188.78 133.00,191.55 133.25,191.29 133.50,195.18 133.75,190.54 134.00,190.83 134.25,190.54 134.50,192.62 134.75,193.18 135.00,191.94 135.25,193.45 135.50,194.03 135.75,194.89 136.00,191.69 136.25,194.08 136.50,190.83 136.75,190.96 137.00,197.25 137.25,191.44 137.50,195.23 137.75,193.04 138.00,193.79 138.25,193.65 138.50,192.41 138.75,191.63 139.00,197.90 139.25,196.17 139.50,193.47 139.75,194.00 140.00,193.26 140.25,195.82 140.50,195.66 140.75,194.04 141.00,190.38 141.25,194.21 141.50,195.18 141.75,195.33 142.00,195.30 142.25,197.00 142.50,197.30 142.75,192.77 143.00,194.49 143.25,192.83 143.50,194.57 143.75,196.77 144.00,196.20 144.25,195.69 144.50,193.35 144.75,196.99 145.00,196.05 145.25,194.58 145.50,197.00 145.75,193.40 146.00,194.18 146.25,197.15 146.50,193.61 146.75,194.08 147.00,198.09 147.25,196.95 147.50,196.42 147.75,193.85 148.00,195.04 148.25,197.12 148.50,195.49 148.75,194.82 149.00,193.98 149.25,195.25 149.50,198.39 149.75,194.37 150.00,196.74 150.25,198.40 150.50,197.47 150.75,195.58 151.00,197.28 151.25,194.89 151.50,196.64 151.75,195.60 152.00,198.40 152.25,198.38 152.50,197.93 152.75,196.22 153.00,198.13 153.25,198.97 153.50,196.27 153.75,196.99 154.00,195.40 154.25,195.50 154.50,197.93 154.75,195.03 155.00,197.45 155.25,195.32 155.50,197.79 155.75,198.19 156.00,199.03 156.25,196.64 156.50,196.67 156.75,196.74 157.00,198.10 157.25,198.47 157.50,195.58 157.75,196.52 158.00,194.83 158.25,196.18 158.50,198.36 158.75,199.25 159.00,199.46 159.25,195.58 159.50,197.03 159.75,199.06 160.00,197.52 160.25,196.86 160.50,198.70 160.75,199.05 161.00,196.42 161.25,197.57 161.50,196.00 161.75,196.14 162.00,193.64 162.25,196.45 162.50,198.80 162.75,196.93 163.00,196.15 163.25,198.05 163.50,196.49 163.75,195.66 164.00,199.62 164.25,196.16 164.50,195.93 164.75,197.42 165.00,195.39 165.25,198.73 165.50,195.69 165.75,195.54 166.00,198.51 166.25,197.57 166.50,199.32 166.75,199.19 167.00,198.49 167.25,195.50 167.50,198.11 167.75,195.65 168.00,195.42 168.25,198.96 168.50,196.68 168.75,198.55 169.00,197.63 169.25,198.71 169.50,198.09 169.75,199.51 170.00,197.39 170.25,199.00 170.50,198.87 170.75,197.87 171.00,197.53 171.25,197.20 171.50,198.12 171.75,196.21 172.00,197.24 172.25,197.99 172.50,196.37 172.75,195.82 173.00,197.78 173.25,198.14 173.50,198.33 173.75,198.01 174.00,197.29 174.25,196.68 174.50,193.94 174.75,197.72 175.00,195.62 175.25,196.52 175.50,193.58 175.75,196.54 176.00,193.39 176.25,192.08 176.50,195.96 176.75,194.89 177.00,189.62 177.25,193.01 177.50,194.29 177.75,191.91 178.00,192.80 178.25,192.58 178.50,191.65 178.75,192.82 179.00,194.60 179.25,190.05 179.50,191.60 179.75,195.30 180.00,193.50 180.25,191.44 180.50,189.77 180.75,189.02 181.00,190.64 181.25,191.93 181.50,192.84 181.75,190.22 182.00,194.73 182.25,192.11 182.50,192.17 182.75,188.36 183.00,189.06 183.25,186.64 183.50,189.43 183.75,182.92 184.00,188.12 184.25,185.61 184.50,187.71 184.75,185.22 185.00,183.39 185.25,186.41 185.50,185.79 185.75,185.44 186.00,183.74 186.25,184.05 186.50,182.91 186.75,181.71 187.00,181.91 187.25,181.93 187.50,180.36 187.75,180.77 188.00,180.33 188.25,177.71 188.50,177.59 188.75,177.13 189.00,177.28 189.25,176.37 189.50,175.94 189.75,174.04 190.00,172.88 190.25,173.18 190.50,170.11 190.75,167.98 191.00,165.05 191.25,163.44 191.50,160.68 191.75,158.41 192.00,157.34 192.25,156.13 192.50,154.87 192.75,151.78 193.00,148.86 193.25,144.89 193.50,140.91 193.75,138.67 194.00,134.35 194.25,128.27 194.50,124.11 194.75,120.56 195.00,115.48 195.25,108.36 195.50,108.61 195.75,113.28 196.00,116.47 196.25,120.31 196.50,125.11 196.75,124.84 197.00,123.25 197.25,122.19 197.50,121.42 197.75,121.96 198.00,118.99 198.25,119.45 198.50,116.62 198.75,115.73 199.00,113.53 199.25,113.01 199.50,109.44 199.75,108.00 200.00,107.02 200.25,106.07 200.50,104.67 200.75,103.66 201.00,102.16 201.25,102.20 201.50,102.15 201.75,101.30 202.00,99.20 202.25,99.69 202.50,98.71 202.75,96.11 203.00,95.21 203.25,97.51 203.50,98.25 203.75,97.97 204.00,99.25 204.25,96.93 204.50,99.06 204.75,99.68 205.00,102.20 205.25,105.41 205.50,104.99 205.75,106.83 206.00,108.27 206.25,111.26 206.50,112.94 206.75,114.10 207.00,116.54 207.25,116.74 207.50,115.94 207.75,119.79 208.00,120.84 208.25,120.72 208.50,122.14 208.75,125.42 209.00,125.22 209.25,127.32 209.50,129.56 209.75,130.67 210.00,130.58 210.25,131.35 210.50,135.57 210.75,136.11 211.00,137.65 211.25,136.45 211.50,138.31 211.75,139.05 212.00,142.38 212.25,142.24 212.50,146.15 212.75,147.40 213.00,147.42 213.25,148.31 213.50,150.72 213.75,150.15 214.00,152.57 214.25,151.75 214.50,149.70 214.75,152.26 215.00,155.35 215.25,154.16 215.50,156.77 215.75,154.74 216.00,158.57 216.25,158.03 216.50,162.12 216.75,158.05 217.00,160.62 217.25,163.92 217.50,162.62 217.75,163.86 218.00,163.51 218.25,162.48 218.50,164.27 218.75,168.20 219.00,167.96 219.25,165.48 219.50,168.23 219.75,169.50 220.00,169.98 220.25,165.46 220.50,166.61 220.75,172.43 221.00,168.23 221.25,172.13 221.50,171.54 221.75,173.70 222.00,175.42 222.25,175.07 222.50,175.11 222.75,170.87 223.00,174.81 223.25,169.96 223.50,176.88 223.75,173.89 224.00,176.83 224.25,177.71 224.50,171.98 224.75,178.97 225.00,173.03 225.25,173.65 225.50,176.32 225.75,174.89 226.00,178.38 226.25,174.82 226.50,178.68 226.75,180.11 227.00,182.09 227.25,177.51 227.50,176.77 227.75,181.71 228.00,180.44 228.25,183.11 228.50,180.36 228.75,179.29 229.00,178.25 229.25,180.55 229.50,181.84 229.75,176.84 230.00,182.38 230.25,178.17 230.50,181.51 230.75,180.66 231.00,178.75 231.25,182.57 231.50,174.95 231.75,181.21 232.00,186.32 232.25,179.29 232.50,179.06 232.75,185.77 233.00,184.50 233.25,186.61 233.50,188.68 233.75,184.50 234.00,174.90 234.25,186.29 234.50,185.06 234.75,185.12 235.00,190.53 235.25,183.78 235.50,184.80 235.75,185.52 236.00,187.51 236.25,181.30 236.50,179.83 236.75,181.34 237.00,185.32 237.25,186.20 237.50,187.78 237.75,188.03 238.00,188.58 238.25,182.05 238.50,185.74 238.75,190.70 239.00,187.11 239.25,192.14 239.50,188.96 239.75,192.19 240.00,197.03 240.25,194.83 240.50,183.09 240.75,181.61" fill="none" stroke="#62b22a" stroke-width="1.8" stroke-linejoin="round" />
<line x1="39.5" y1="199.5" x2="39.5" y2="176" stroke="#e49a80" stroke-width="0.9"/>
<line x1="70.5" y1="199.5" x2="70.5" y2="183.5" stroke="#c8b090" stroke-width="0.9"/>
<line x1="98" y1="199.5" x2="98" y2="171.5" stroke="#98b080" stroke-width="0.9"/>
<line x1="129" y1="199.5" x2="129" y2="181.5" stroke="#88b060" stroke-width="0.9"/>
<line x1="167.8" y1="199.5" x2="167.8" y2="185.5" stroke="#b0b8a0" stroke-width="0.9"/>
<text x="30.50" y="215.9" font-size="10.8" text-anchor="middle" stroke="#1a1a1a" stroke-width="0.25" >300</text>
<text x="72.70" y="215.9" font-size="10.8" text-anchor="middle" stroke="#1a1a1a" stroke-width="0.25" >400</text>
<text x="114.90" y="215.9" font-size="10.8" text-anchor="middle" stroke="#1a1a1a" stroke-width="0.25" >500</text>
<text x="157.10" y="215.9" font-size="10.8" text-anchor="middle" stroke="#1a1a1a" stroke-width="0.25" >600</text>
<text x="199.30" y="215.9" font-size="10.8" text-anchor="middle" stroke="#1a1a1a" stroke-width="0.25" >700</text>
<text x="241.50" y="215.9" font-size="10.8" text-anchor="middle" stroke="#1a1a1a" stroke-width="0.25" >800</text>
<text x="30.50" y="23.6" font-size="11.0" text-anchor="middle" stroke="#1a1a1a" stroke-width="0.25" >4.13</text>
<text x="72.70" y="23.6" font-size="11.0" text-anchor="middle" stroke="#1a1a1a" stroke-width="0.25" >3.10</text>
<text x="114.90" y="23.6" font-size="11.0" text-anchor="middle" stroke="#1a1a1a" stroke-width="0.25" >2.48</text>
<text x="157.10" y="23.6" font-size="11.0" text-anchor="middle" stroke="#1a1a1a" stroke-width="0.25" >2.07</text>
<text x="199.30" y="23.6" font-size="11.0" text-anchor="middle" stroke="#1a1a1a" stroke-width="0.25" >1.77</text>
<text x="241.50" y="23.6" font-size="11.0" text-anchor="middle" stroke="#1a1a1a" stroke-width="0.25" >1.55</text>
<text x="137" y="11.8" font-size="14.4" text-anchor="middle" stroke="#1a1a1a" stroke-width="0.25" >Energy (eV)</text>
<text x="135.4" y="230.5" font-size="14.4" text-anchor="middle" stroke="#1a1a1a" stroke-width="0.25" >Wavelength (nm)</text>
<text x="0" y="0" font-size="14.3" text-anchor="middle" stroke="#1a1a1a" stroke-width="0.25" transform="translate(15.6,115.7) rotate(-90)">Intensity (arb.units)</text>
<text x="0.2" y="25.0" font-size="14.5" text-anchor="start" stroke="#1a1a1a" stroke-width="0.25" >(a)</text>
<rect x="31.4" y="32.5" width="68.6" height="33.7" fill="#ffffff" stroke="#c8c8c8" stroke-width="0.8"/>
<line x1="32.2" y1="39.3" x2="53.0" y2="39.3" stroke="#c42c4c" stroke-width="1.1"/>
<text x="55.5" y="42.599999999999994" font-size="8.7" text-anchor="start" stroke="#1a1a1a" stroke-width="0.25" >NTC (010)</text>
<line x1="32.2" y1="50.3" x2="53.0" y2="50.3" stroke="#cfa062" stroke-width="1.1"/>
<text x="55.5" y="53.599999999999994" font-size="8.7" text-anchor="start" stroke="#1a1a1a" stroke-width="0.25" >Syn (010)</text>
<line x1="32.2" y1="61.0" x2="53.0" y2="61.0" stroke="#6cab4a" stroke-width="1.1"/>
<text x="55.5" y="64.3" font-size="8.7" text-anchor="start" stroke="#1a1a1a" stroke-width="0.25" >Syn (100)</text>
<line x1="392.4" y1="96" x2="392.4" y2="196.5" stroke="#b0a0b0" stroke-width="0.7" stroke-dasharray="1.5,1.5"/>
<line x1="398.5" y1="96" x2="398.5" y2="196.5" stroke="#a8b0c8" stroke-width="0.7" stroke-dasharray="1.5,1.5"/>
<rect x="319.5" y="30.0" width="165.0" height="166.5" fill="none" stroke="#3c3c3c" stroke-width="1"/>
<line x1="319.50" y1="196.5" x2="319.50" y2="199.0" stroke="#3c3c3c" stroke-width="1"/>
<line x1="319.50" y1="30.0" x2="319.50" y2="32.5" stroke="#3c3c3c" stroke-width="1"/>
<line x1="360.75" y1="196.5" x2="360.75" y2="199.0" stroke="#3c3c3c" stroke-width="1"/>
<line x1="360.75" y1="30.0" x2="360.75" y2="32.5" stroke="#3c3c3c" stroke-width="1"/>
<line x1="402.00" y1="196.5" x2="402.00" y2="199.0" stroke="#3c3c3c" stroke-width="1"/>
<line x1="402.00" y1="30.0" x2="402.00" y2="32.5" stroke="#3c3c3c" stroke-width="1"/>
<line x1="443.25" y1="196.5" x2="443.25" y2="199.0" stroke="#3c3c3c" stroke-width="1"/>
<line x1="443.25" y1="30.0" x2="443.25" y2="32.5" stroke="#3c3c3c" stroke-width="1"/>
<line x1="484.50" y1="196.5" x2="484.50" y2="199.0" stroke="#3c3c3c" stroke-width="1"/>
<line x1="484.50" y1="30.0" x2="484.50" y2="32.5" stroke="#3c3c3c" stroke-width="1"/>
<line x1="340.12" y1="196.5" x2="340.12" y2="195.0" stroke="#3c3c3c" stroke-width="1"/>
<line x1="340.12" y1="30.0" x2="340.12" y2="28.5" stroke="#3c3c3c" stroke-width="1"/>
<line x1="381.38" y1="196.5" x2="381.38" y2="195.0" stroke="#3c3c3c" stroke-width="1"/>
<line x1="381.38" y1="30.0" x2="381.38" y2="28.5" stroke="#3c3c3c" stroke-width="1"/>
<line x1="422.62" y1="196.5" x2="422.62" y2="195.0" stroke="#3c3c3c" stroke-width="1"/>
<line x1="422.62" y1="30.0" x2="422.62" y2="28.5" stroke="#3c3c3c" stroke-width="1"/>
<line x1="463.88" y1="196.5" x2="463.88" y2="195.0" stroke="#3c3c3c" stroke-width="1"/>
<line x1="463.88" y1="30.0" x2="463.88" y2="28.5" stroke="#3c3c3c" stroke-width="1"/>
<polyline points="320.00,196.70 320.50,196.62 321.00,196.64 321.50,196.56 322.00,196.69 322.50,196.38 323.00,196.69 323.50,196.52 324.00,196.52 324.50,196.41 325.00,196.34 325.50,196.47 326.00,196.60 326.50,196.55 327.00,196.61 327.50,196.47 328.00,196.52 328.50,196.47 329.00,196.35 329.50,196.46 330.00,196.41 330.50,196.55 331.00,196.42 331.50,196.44 332.00,196.50 332.50,196.54 333.00,196.41 333.50,196.40 334.00,196.43 334.50,196.52 335.00,196.28 335.50,196.26 336.00,196.73 336.50,196.36 337.00,196.38 337.50,196.11 338.00,196.30 338.50,196.33 339.00,196.27 339.50,196.28 340.00,196.31 340.50,196.36 341.00,196.42 341.50,196.16 342.00,196.15 342.50,196.36 343.00,196.31 343.50,196.18 344.00,196.11 344.50,196.17 345.00,196.26 345.50,196.32 346.00,196.37 346.50,196.33 347.00,196.11 347.50,196.43 348.00,196.29 348.50,196.18 349.00,196.16 349.50,196.27 350.00,196.09 350.50,196.07 351.00,196.08 351.50,196.21 352.00,195.82 352.50,196.07 353.00,195.66 353.50,195.75 354.00,195.83 354.50,195.88 355.00,195.56 355.50,195.78 356.00,195.76 356.50,195.52 357.00,195.49 357.50,195.45 358.00,195.20 358.50,195.67 359.00,195.39 359.50,195.13 360.00,195.31 360.50,195.25 361.00,195.12 361.50,195.11 362.00,195.16 362.50,194.94 363.00,194.84 363.50,195.11 364.00,194.91 364.50,194.76 365.00,194.96 365.50,194.45 366.00,194.54 366.50,194.70 367.00,194.59 367.50,194.55 368.00,194.39 368.50,194.32 369.00,194.26 369.50,194.20 370.00,194.24 370.50,194.18 371.00,194.02 371.50,194.01 372.00,193.51 372.50,193.57 373.00,193.33 373.50,193.53 374.00,193.15 374.50,193.12 375.00,192.93 375.50,192.68 376.00,192.52 376.50,192.55 377.00,192.44 377.50,192.16 378.00,192.29 378.50,191.94 379.00,191.90 379.50,191.70 380.00,191.63 380.50,191.20 381.00,191.41 381.50,191.19 382.00,191.04 382.50,190.95 383.00,190.71 383.50,190.29 384.00,190.21 384.50,189.94 385.00,189.79 385.50,189.68 386.00,189.52 386.50,188.89 387.00,188.62 387.50,188.44 388.00,188.16 388.10,188.06 388.20,187.89 388.30,187.94 388.40,187.86 388.50,187.66 388.50,187.90 388.60,187.50 388.70,187.60 388.80,187.52 388.90,187.50 389.00,187.49 389.00,187.31 389.10,187.28 389.20,187.29 389.30,187.33 389.40,186.98 389.50,187.05 389.50,187.00 389.60,186.78 389.70,186.86 389.80,186.60 389.90,186.62 390.00,186.55 390.00,186.79 390.10,186.32 390.20,186.41 390.30,186.25 390.40,186.09 390.50,185.94 390.50,186.16 390.60,185.78 390.70,185.81 390.80,185.53 390.90,185.47 391.00,185.29 391.00,185.01 391.10,184.87 391.20,184.74 391.30,184.49 391.40,184.01 391.50,183.90 391.50,183.96 391.60,183.47 391.70,183.08 391.80,182.47 391.90,182.26 392.00,181.83 392.00,181.94 392.10,181.09 392.20,180.73 392.30,179.87 392.40,179.42 392.50,178.84 392.50,178.64 392.60,178.24 392.70,177.86 392.80,177.47 392.90,177.12 393.00,176.96 393.00,177.07 393.10,176.99 393.20,176.59 393.30,176.90 393.40,177.16 393.50,177.15 393.50,177.49 393.60,177.94 393.70,178.02 393.80,178.35 393.90,179.02 394.00,179.71 394.00,179.88 394.10,180.06 394.20,180.45 394.30,180.75 394.40,181.32 394.50,181.49 394.50,181.59 394.60,182.01 394.70,182.16 394.80,182.25 394.90,182.61 395.00,182.86 395.00,182.87 395.10,182.65 395.20,183.01 395.30,183.09 395.40,183.06 395.50,183.00 395.50,183.05 395.60,183.07 395.70,183.44 395.80,183.23 395.90,183.17 396.00,183.24 396.00,183.36 396.10,183.17 396.20,183.26 396.30,183.22 396.40,183.05 396.50,183.26 396.50,183.11 396.60,183.17 396.70,183.15 396.80,182.88 396.90,182.78 397.00,182.73 397.00,183.07 397.10,182.73 397.20,182.59 397.30,182.71 397.40,182.33 397.50,182.50 397.50,182.20 397.60,182.17 397.70,181.98 397.80,181.83 397.90,181.72 398.00,181.50 398.00,181.27 398.10,181.09 398.20,181.02 398.30,180.95 398.40,180.66 398.50,180.51 398.50,180.35 398.60,180.55 398.70,180.45 398.80,180.29 398.90,180.39 399.00,180.65 399.00,180.41 399.10,180.47 399.20,180.74 399.30,180.55 399.40,180.84 399.50,180.98 399.50,180.91 399.60,181.07 399.70,181.18 399.80,181.33 399.90,181.37 400.00,181.54 400.00,181.55 400.10,181.50 400.20,181.51 400.30,181.30 400.40,181.70 400.50,181.61 400.50,181.61 400.60,181.71 400.70,181.50 400.80,181.48 400.90,181.63 401.00,181.11 401.00,181.63 401.10,181.53 401.20,181.32 401.30,181.35 401.40,181.55 401.50,181.31 401.50,181.50 401.60,181.41 401.70,181.35 401.80,181.31 401.90,181.27 402.00,181.21 402.00,181.29 402.10,181.33 402.20,180.95 402.30,181.34 402.40,181.41 402.50,180.92 402.50,181.25 402.60,181.09 402.70,181.14 402.80,181.01 402.90,180.85 403.00,181.03 403.50,180.81 404.00,180.68 404.50,180.34 405.00,180.27 405.50,180.24 406.00,179.77 406.50,179.83 407.00,179.41 407.50,179.55 408.00,179.54 408.50,178.94 409.00,178.94 409.50,178.89 410.00,178.59 410.50,178.75 411.00,178.63 411.50,178.56 412.00,178.76 412.50,178.74 413.00,179.15 413.50,179.12 414.00,179.19 414.50,179.37 415.00,179.39 415.50,179.63 416.00,179.80 416.50,180.16 417.00,180.35 417.50,180.36 418.00,180.73 418.50,180.88 419.00,181.01 419.50,181.35 420.00,181.45 420.50,181.60 421.00,181.81 421.50,182.11 422.00,182.11 422.50,182.40 423.00,182.71 423.50,182.97 424.00,183.09 424.50,183.24 425.00,183.29 425.50,183.79 426.00,183.77 426.50,183.94 427.00,184.37 427.50,184.36 428.00,184.52 428.50,184.86 429.00,185.09 429.50,185.22 430.00,185.13 430.50,185.52 431.00,185.57 431.50,185.70 432.00,185.94 432.50,186.08 433.00,185.94 433.50,186.34 434.00,186.31 434.50,186.43 435.00,186.46 435.50,186.69 436.00,186.88 436.50,186.83 437.00,186.83 437.50,187.40 438.00,187.36 438.50,187.42 439.00,187.63 439.50,187.48 440.00,187.62 440.50,187.67 441.00,187.91 441.50,188.38 442.00,188.33 442.50,188.16 443.00,188.52 443.50,188.57 444.00,188.73 444.50,188.58 445.00,188.76 445.50,188.73 446.00,188.95 446.50,189.13 447.00,189.09 447.50,189.19 448.00,189.39 448.50,189.31 449.00,189.31 449.50,189.60 450.00,189.38 450.50,189.84 451.00,189.64 451.50,189.78 452.00,189.76 452.50,190.17 453.00,190.25 453.50,190.20 454.00,190.31 454.50,190.51 455.00,190.44 455.50,190.34 456.00,190.46 456.50,190.59 457.00,190.42 457.50,190.77 458.00,190.84 458.50,191.02 459.00,191.04 459.50,191.29 460.00,191.14 460.50,191.31 461.00,191.48 461.50,191.44 462.00,191.56 462.50,191.41 463.00,191.71 463.50,191.75 464.00,191.99 464.50,191.93 465.00,192.06 465.50,192.31 466.00,192.04 466.50,192.29 467.00,192.21 467.50,192.38 468.00,192.50 468.50,192.50 469.00,192.78 469.50,192.68 470.00,192.81 470.50,192.94 471.00,193.00 471.50,193.14 472.00,193.09 472.50,193.40 473.00,193.40 473.50,193.49 474.00,193.55 474.50,193.57 475.00,193.68 475.50,193.81 476.00,193.97 476.50,193.99 477.00,193.95 477.50,194.12 478.00,194.03 478.50,194.27 479.00,194.29 479.50,194.39 480.00,194.46 480.50,194.44 481.00,194.58 481.50,194.69 482.00,194.81 482.50,194.91 483.00,194.91 483.50,194.92 484.00,195.18" fill="none" stroke="#e04466" stroke-width="1.1" stroke-linejoin="round" />
<polyline points="320.00,180.67 320.50,180.82 321.00,180.90 321.50,180.64 322.00,180.60 322.50,180.74 323.00,180.61 323.50,180.68 324.00,180.76 324.50,180.62 325.00,180.67 325.50,180.24 326.00,180.63 326.50,180.47 327.00,180.36 327.50,180.44 328.00,180.30 328.50,180.29 329.00,180.16 329.50,180.32 330.00,180.21 330.50,180.27 331.00,180.44 331.50,180.34 332.00,180.16 332.50,180.35 333.00,180.40 333.50,180.27 334.00,180.25 334.50,180.22 335.00,180.09 335.50,180.33 336.00,180.24 336.50,180.16 337.00,180.14 337.50,180.12 338.00,180.30 338.50,180.07 339.00,179.88 339.50,180.09 340.00,180.16 340.50,180.12 341.00,179.97 341.50,179.81 342.00,180.24 342.50,179.85 343.00,179.97 343.50,179.92 344.00,179.84 344.50,179.85 345.00,179.75 345.50,179.76 346.00,179.79 346.50,179.82 347.00,180.11 347.50,179.68 348.00,179.92 348.50,179.78 349.00,179.71 349.50,179.57 350.00,179.71 350.50,179.58 351.00,179.72 351.50,179.71 352.00,179.51 352.50,179.78 353.00,179.60 353.50,179.61 354.00,179.63 354.50,179.53 355.00,179.69 355.50,179.75 356.00,179.56 356.50,179.63 357.00,179.74 357.50,179.58 358.00,179.45 358.50,179.61 359.00,179.46 359.50,179.41 360.00,179.24 360.50,179.42 361.00,179.28 361.50,179.39 362.00,179.09 362.50,179.19 363.00,179.49 363.50,179.51 364.00,179.32 364.50,179.29 365.00,178.96 365.50,179.28 366.00,179.12 366.50,178.92 367.00,179.04 367.50,179.01 368.00,179.20 368.50,179.10 369.00,179.32 369.50,179.16 370.00,178.92 370.50,178.89 371.00,178.58 371.50,178.72 372.00,178.46 372.50,178.40 373.00,178.29 373.50,178.12 374.00,177.92 374.50,177.92 375.00,177.79 375.50,177.25 376.00,177.34 376.50,177.25 377.00,177.07 377.50,177.02 378.00,176.96 378.50,176.73 379.00,176.56 379.50,176.56 380.00,176.34 380.50,176.19 381.00,176.27 381.50,176.01 382.00,175.61 382.50,175.75 383.00,175.35 383.50,175.32 384.00,174.92 384.50,175.12 385.00,174.63 385.50,174.74 386.00,174.78 386.50,174.43 387.00,174.19 387.50,173.87 388.00,173.74 388.10,173.84 388.20,173.39 388.30,173.50 388.40,173.73 388.50,173.47 388.50,173.66 388.60,173.55 388.70,173.30 388.80,173.34 388.90,173.47 389.00,173.20 389.00,173.23 389.10,173.24 389.20,173.04 389.30,173.01 389.40,173.03 389.50,172.87 389.50,172.90 389.60,172.90 389.70,172.97 389.80,172.65 389.90,172.50 390.00,172.85 390.00,172.61 390.10,172.16 390.20,172.23 390.30,171.98 390.40,172.16 390.50,171.80 390.50,171.88 390.60,172.01 390.70,171.57 390.80,171.49 390.90,171.35 391.00,171.22 391.00,171.23 391.10,171.04 391.20,170.51 391.30,170.34 391.40,169.72 391.50,169.53 391.50,169.50 391.60,169.29 391.70,168.60 391.80,167.95 391.90,167.32 392.00,166.58 392.00,166.63 392.10,165.88 392.20,165.21 392.30,164.36 392.40,163.66 392.50,163.03 392.50,162.76 392.60,162.10 392.70,161.40 392.80,161.27 392.90,160.80 393.00,160.36 393.00,160.31 393.10,160.03 393.20,160.27 393.30,160.30 393.40,160.62 393.50,160.97 393.50,160.60 393.60,161.23 393.70,161.93 393.80,162.66 393.90,163.10 394.00,163.87 394.00,163.80 394.10,164.32 394.20,165.11 394.30,165.42 394.40,165.88 394.50,166.67 394.50,166.64 394.60,166.86 394.70,167.28 394.80,167.31 394.90,167.58 395.00,167.82 395.00,167.82 395.10,167.98 395.20,167.85 395.30,168.20 395.40,167.99 395.50,168.15 395.50,168.48 395.60,168.30 395.70,168.12 395.80,168.22 395.90,168.07 396.00,168.05 396.00,168.04 396.10,168.07 396.20,168.08 396.30,168.12 396.40,168.26 396.50,168.00 396.50,167.98 396.60,167.75 396.70,167.99 396.80,167.77 396.90,167.87 397.00,167.60 397.00,167.79 397.10,167.41 397.20,167.31 397.30,167.18 397.40,167.00 397.50,166.87 397.50,166.85 397.60,166.35 397.70,166.19 397.80,165.94 397.90,165.80 398.00,165.36 398.00,165.49 398.10,165.15 398.20,164.78 398.30,164.21 398.40,164.43 398.50,164.05 398.50,163.93 398.60,163.89 398.70,163.72 398.80,163.79 398.90,163.76 399.00,164.26 399.00,163.96 399.10,164.24 399.20,164.33 399.30,164.77 399.40,165.10 399.50,165.21 399.50,165.09 399.60,165.45 399.70,165.62 399.80,165.93 399.90,166.02 400.00,166.15 400.00,166.09 400.10,166.18 400.20,166.29 400.30,166.50 400.40,166.38 400.50,166.48 400.50,166.35 400.60,166.37 400.70,166.27 400.80,166.39 400.90,166.32 401.00,166.11 401.00,166.27 401.10,166.18 401.20,166.31 401.30,166.27 401.40,166.45 401.50,166.29 401.50,166.20 401.60,166.20 401.70,166.17 401.80,166.14 401.90,166.23 402.00,166.07 402.00,166.18 402.10,166.24 402.20,166.03 402.30,166.06 402.40,166.23 402.50,166.06 402.50,165.96 402.60,166.04 402.70,165.91 402.80,165.81 402.90,165.98 403.00,165.73 403.50,165.59 404.00,165.48 404.50,165.42 405.00,165.22 405.50,164.89 406.00,164.78 406.50,164.55 407.00,164.51 407.50,164.26 408.00,163.96 408.50,163.96 409.00,163.54 409.50,163.51 410.00,163.20 410.50,163.45 411.00,163.27 411.50,163.35 412.00,163.63 412.50,163.42 413.00,163.53 413.50,163.57 414.00,163.83 414.50,163.92 415.00,164.23 415.50,164.41 416.00,164.58 416.50,164.72 417.00,164.92 417.50,165.12 418.00,165.30 418.50,165.58 419.00,165.62 419.50,165.87 420.00,166.14 420.50,166.49 421.00,166.52 421.50,166.65 422.00,166.84 422.50,167.24 423.00,167.18 423.50,167.38 424.00,167.62 424.50,167.74 425.00,167.99 425.50,168.27 426.00,168.39 426.50,168.39 427.00,168.86 427.50,169.10 428.00,169.13 428.50,169.60 429.00,169.59 429.50,169.78 430.00,169.76 430.50,170.37 431.00,170.50 431.50,170.56 432.00,170.77 432.50,170.63 433.00,170.80 433.50,171.06 434.00,171.17 434.50,171.18 435.00,171.48 435.50,171.70 436.00,171.72 436.50,172.07 437.00,172.09 437.50,172.14 438.00,172.24 438.50,172.35 439.00,172.74 439.50,172.61 440.00,173.00 440.50,173.15 441.00,173.07 441.50,173.44 442.00,173.53 442.50,173.88 443.00,173.85 443.50,173.92 444.00,174.13 444.50,174.33 445.00,174.19 445.50,174.29 446.00,174.57 446.50,174.80 447.00,174.47 447.50,174.88 448.00,174.82 448.50,174.92 449.00,174.95 449.50,174.89 450.00,174.93 450.50,175.32 451.00,174.96 451.50,175.18 452.00,175.41 452.50,175.27 453.00,175.43 453.50,175.41 454.00,175.37 454.50,175.59 455.00,175.58 455.50,175.56 456.00,175.78 456.50,175.71 457.00,175.84 457.50,175.81 458.00,176.10 458.50,176.09 459.00,176.07 459.50,176.08 460.00,176.13 460.50,176.19 461.00,176.17 461.50,176.51 462.00,176.29 462.50,176.55 463.00,176.61 463.50,176.53 464.00,176.60 464.50,176.52 465.00,176.71 465.50,176.72 466.00,176.95 466.50,176.83 467.00,176.89 467.50,177.10 468.00,176.87 468.50,177.06 469.00,177.33 469.50,177.23 470.00,177.41 470.50,177.01 471.00,177.34 471.50,177.46 472.00,177.37 472.50,177.70 473.00,177.48 473.50,177.64 474.00,177.80 474.50,177.84 475.00,177.85 475.50,177.83 476.00,178.01 476.50,177.96 477.00,178.28 477.50,178.14 478.00,178.11 478.50,178.42 479.00,178.55 479.50,178.45 480.00,178.40 480.50,178.34 481.00,178.50 481.50,178.74 482.00,178.76 482.50,178.53 483.00,178.82 483.50,178.63 484.00,178.95" fill="none" stroke="#e8965a" stroke-width="1.1" stroke-linejoin="round" />
<polyline points="320.00,165.65 320.50,165.65 321.00,165.50 321.50,165.57 322.00,165.56 322.50,165.56 323.00,165.81 323.50,165.50 324.00,165.49 324.50,165.46 325.00,165.63 325.50,165.45 326.00,165.48 326.50,165.59 327.00,165.56 327.50,165.35 328.00,165.67 328.50,165.48 329.00,165.55 329.50,165.47 330.00,165.62 330.50,165.37 331.00,165.32 331.50,165.44 332.00,165.55 332.50,165.37 333.00,165.47 333.50,165.54 334.00,165.18 334.50,165.50 335.00,165.47 335.50,165.26 336.00,165.30 336.50,165.24 337.00,165.39 337.50,165.21 338.00,165.35 338.50,165.43 339.00,165.05 339.50,165.30 340.00,165.23 340.50,165.17 341.00,165.27 341.50,165.20 342.00,165.02 342.50,165.12 343.00,165.18 343.50,165.08 344.00,165.00 344.50,165.45 345.00,165.32 345.50,165.29 346.00,165.14 346.50,164.87 347.00,165.08 347.50,165.16 348.00,165.04 348.50,165.01 349.00,165.11 349.50,165.32 350.00,165.09 350.50,165.06 351.00,164.95 351.50,165.22 352.00,165.07 352.50,165.01 353.00,164.97 353.50,164.93 354.00,165.02 354.50,165.24 355.00,164.99 355.50,165.04 356.00,164.87 356.50,164.99 357.00,164.77 357.50,165.11 358.00,164.87 358.50,164.98 359.00,164.93 359.50,165.08 360.00,164.97 360.50,164.96 361.00,164.68 361.50,164.73 362.00,164.72 362.50,164.72 363.00,164.72 363.50,164.92 364.00,164.79 364.50,164.79 365.00,164.67 365.50,164.66 366.00,164.60 366.50,164.88 367.00,164.75 367.50,164.81 368.00,164.73 368.50,164.57 369.00,164.64 369.50,164.34 370.00,164.63 370.50,164.49 371.00,164.44 371.50,164.34 372.00,164.31 372.50,164.11 373.00,164.04 373.50,163.85 374.00,163.80 374.50,163.76 375.00,163.72 375.50,163.46 376.00,163.23 376.50,163.07 377.00,163.15 377.50,162.99 378.00,163.04 378.50,163.06 379.00,162.66 379.50,162.80 380.00,162.68 380.50,162.31 381.00,162.26 381.50,162.29 382.00,161.99 382.50,161.85 383.00,161.96 383.50,161.68 384.00,161.55 384.50,161.59 385.00,161.40 385.50,161.29 386.00,161.31 386.50,161.16 387.00,160.65 387.50,160.80 388.00,160.50 388.10,160.50 388.20,160.51 388.30,160.59 388.40,160.42 388.50,160.26 388.50,160.32 388.60,160.04 388.70,160.23 388.80,160.14 388.90,159.91 389.00,159.82 389.00,159.83 389.10,159.83 389.20,159.93 389.30,159.77 389.40,159.64 389.50,159.61 389.50,159.80 389.60,159.53 389.70,159.39 389.80,159.66 389.90,159.21 390.00,159.27 390.00,159.32 390.10,159.13 390.20,158.98 390.30,159.05 390.40,158.79 390.50,158.72 390.50,158.64 390.60,158.70 390.70,158.24 390.80,158.02 390.90,157.87 391.00,157.74 391.00,157.72 391.10,157.52 391.20,157.13 391.30,156.92 391.40,156.30 391.50,155.86 391.50,155.97 391.60,155.38 391.70,154.75 391.80,154.07 391.90,153.26 392.00,152.49 392.00,152.55 392.10,151.65 392.20,150.51 392.30,149.35 392.40,148.23 392.50,147.18 392.50,147.12 392.60,146.39 392.70,145.62 392.80,144.65 392.90,144.10 393.00,143.41 393.00,143.66 393.10,143.41 393.20,143.52 393.30,143.66 393.40,144.11 393.50,144.70 393.50,144.73 393.60,145.79 393.70,146.47 393.80,147.11 393.90,148.18 394.00,149.07 394.00,149.35 394.10,149.76 394.20,150.86 394.30,151.61 394.40,152.42 394.50,152.93 394.50,152.71 394.60,153.01 394.70,153.48 394.80,153.84 394.90,154.16 395.00,154.30 395.00,154.22 395.10,154.62 395.20,154.68 395.30,154.70 395.40,154.75 395.50,154.78 395.50,154.73 395.60,155.18 395.70,154.86 395.80,154.83 395.90,155.08 396.00,154.84 396.00,154.92 396.10,154.75 396.20,154.80 396.30,154.60 396.40,154.84 396.50,154.99 396.50,154.78 396.60,154.74 396.70,154.79 396.80,154.72 396.90,154.40 397.00,154.32 397.00,154.37 397.10,154.45 397.20,154.02 397.30,153.91 397.40,153.73 397.50,153.50 397.50,153.52 397.60,153.13 397.70,152.94 397.80,152.26 397.90,152.10 398.00,151.34 398.00,151.40 398.10,150.62 398.20,150.25 398.30,149.55 398.40,149.07 398.50,148.99 398.50,148.89 398.60,148.53 398.70,148.34 398.80,148.73 398.90,148.85 399.00,149.27 399.00,149.29 399.10,149.74 399.20,149.83 399.30,150.24 399.40,151.24 399.50,151.44 399.50,151.80 399.60,152.19 399.70,152.56 399.80,152.91 399.90,153.02 400.00,153.45 400.00,153.44 400.10,153.70 400.20,154.04 400.30,153.86 400.40,154.10 400.50,154.30 400.50,154.00 400.60,154.03 400.70,154.08 400.80,154.06 400.90,154.03 401.00,154.32 401.00,154.43 401.10,154.33 401.20,154.20 401.30,154.20 401.40,154.31 401.50,154.19 401.50,154.26 401.60,154.21 401.70,154.38 401.80,154.34 401.90,154.28 402.00,154.11 402.00,154.19 402.10,154.33 402.20,154.44 402.30,154.15 402.40,154.51 402.50,154.13 402.50,154.13 402.60,154.21 402.70,154.07 402.80,154.13 402.90,154.12 403.00,154.03 403.50,153.94 404.00,153.92 404.50,153.87 405.00,153.85 405.50,153.46 406.00,153.12 406.50,153.10 407.00,152.81 407.50,152.86 408.00,152.62 408.50,152.60 409.00,152.40 409.50,152.31 410.00,152.17 410.50,152.34 411.00,151.90 411.50,152.26 412.00,152.32 412.50,152.33 413.00,152.41 413.50,152.57 414.00,152.63 414.50,152.73 415.00,153.14 415.50,153.33 416.00,153.54 416.50,153.61 417.00,153.94 417.50,154.08 418.00,154.43 418.50,154.39 419.00,154.33 419.50,154.65 420.00,155.01 420.50,154.99 421.00,155.43 421.50,155.45 422.00,155.75 422.50,155.96 423.00,156.01 423.50,156.35 424.00,156.63 424.50,156.62 425.00,156.84 425.50,156.99 426.00,157.33 426.50,157.57 427.00,157.56 427.50,157.77 428.00,158.10 428.50,158.18 429.00,158.55 429.50,158.49 430.00,158.55 430.50,158.61 431.00,158.80 431.50,158.77 432.00,159.11 432.50,159.38 433.00,159.07 433.50,159.17 434.00,159.28 434.50,159.48 435.00,159.47 435.50,159.76 436.00,159.87 436.50,159.74 437.00,159.88 437.50,159.90 438.00,160.15 438.50,160.37 439.00,160.11 439.50,160.25 440.00,160.25 440.50,160.53 441.00,160.61 441.50,160.53 442.00,160.68 442.50,161.06 443.00,161.12 443.50,160.83 444.00,161.01 444.50,161.03 445.00,161.19 445.50,161.06 446.00,161.32 446.50,161.42 447.00,161.49 447.50,161.21 448.00,161.65 448.50,161.35 449.00,161.33 449.50,161.68 450.00,161.69 450.50,161.62 451.00,161.77 451.50,161.78 452.00,161.78 452.50,161.64 453.00,161.77 453.50,161.85 454.00,162.03 454.50,162.12 455.00,161.95 455.50,161.93 456.00,161.95 456.50,162.19 457.00,162.04 457.50,162.41 458.00,162.22 458.50,162.25 459.00,162.35 459.50,162.31 460.00,162.24 460.50,162.40 461.00,162.47 461.50,162.40 462.00,162.47 462.50,162.53 463.00,162.35 463.50,162.52 464.00,162.64 464.50,162.55 465.00,162.79 465.50,162.83 466.00,162.54 466.50,162.77 467.00,162.93 467.50,162.88 468.00,163.02 468.50,163.07 469.00,162.85 469.50,163.10 470.00,163.00 470.50,162.87 471.00,163.25 471.50,163.13 472.00,163.25 472.50,163.38 473.00,163.46 473.50,163.34 474.00,163.30 474.50,163.37 475.00,163.62 475.50,163.49 476.00,163.78 476.50,163.79 477.00,163.56 477.50,163.90 478.00,163.65 478.50,163.74 479.00,163.79 479.50,163.71 480.00,163.88 480.50,163.98 481.00,164.22 481.50,164.15 482.00,163.95 482.50,164.09 483.00,164.22 483.50,164.10 484.00,164.04" fill="none" stroke="#e2bc5c" stroke-width="1.1" stroke-linejoin="round" />
<polyline points="320.00,147.33 320.50,147.04 321.00,147.27 321.50,147.05 322.00,147.32 322.50,147.00 323.00,147.10 323.50,147.12 324.00,146.93 324.50,147.29 325.00,147.00 325.50,147.03 326.00,147.12 326.50,147.27 327.00,147.08 327.50,147.42 328.00,147.18 328.50,147.14 329.00,147.23 329.50,147.16 330.00,147.05 330.50,147.11 331.00,147.19 331.50,147.36 332.00,147.20 332.50,147.23 333.00,146.90 333.50,147.13 334.00,147.16 334.50,147.38 335.00,147.35 335.50,147.18 336.00,147.22 336.50,147.15 337.00,147.07 337.50,147.16 338.00,147.11 338.50,147.19 339.00,147.24 339.50,147.13 340.00,147.29 340.50,147.02 341.00,147.15 341.50,147.17 342.00,146.93 342.50,147.22 343.00,147.23 343.50,147.35 344.00,147.14 344.50,147.22 345.00,147.22 345.50,146.94 346.00,147.17 346.50,146.96 347.00,147.17 347.50,147.22 348.00,147.17 348.50,146.89 349.00,147.31 349.50,147.17 350.00,147.25 350.50,147.05 351.00,147.08 351.50,147.38 352.00,147.10 352.50,147.07 353.00,147.08 353.50,147.24 354.00,146.93 354.50,147.08 355.00,147.01 355.50,147.42 356.00,147.24 356.50,147.12 357.00,147.14 357.50,147.08 358.00,147.05 358.50,147.09 359.00,147.32 359.50,147.07 360.00,147.07 360.50,147.14 361.00,147.28 361.50,147.15 362.00,146.97 362.50,147.10 363.00,147.09 363.50,146.93 364.00,147.00 364.50,147.13 365.00,147.03 365.50,147.29 366.00,147.12 366.50,147.02 367.00,147.07 367.50,146.96 368.00,146.98 368.50,147.14 369.00,147.03 369.50,146.78 370.00,146.82 370.50,147.02 371.00,146.77 371.50,146.82 372.00,146.94 372.50,146.72 373.00,146.66 373.50,146.58 374.00,146.70 374.50,146.42 375.00,146.30 375.50,146.39 376.00,146.51 376.50,146.30 377.00,146.38 377.50,146.27 378.00,145.93 378.50,146.00 379.00,145.92 379.50,145.87 380.00,145.95 380.50,145.90 381.00,145.75 381.50,145.74 382.00,145.45 382.50,145.54 383.00,145.24 383.50,145.25 384.00,145.06 384.50,145.28 385.00,144.99 385.50,145.04 386.00,144.69 386.50,144.77 387.00,144.71 387.50,144.48 388.00,144.31 388.10,144.27 388.20,144.20 388.30,144.12 388.40,144.02 388.50,144.20 388.50,144.08 388.60,144.03 388.70,144.01 388.80,143.77 388.90,143.69 389.00,143.64 389.00,144.01 389.10,143.70 389.20,143.75 389.30,143.37 389.40,143.47 389.50,143.45 389.50,143.37 389.60,143.48 389.70,143.22 389.80,143.15 389.90,143.19 390.00,143.14 390.00,142.99 390.10,142.78 390.20,142.67 390.30,142.71 390.40,142.28 390.50,142.12 390.50,142.12 390.60,142.17 390.70,141.88 390.80,141.46 390.90,141.17 391.00,140.88 391.00,140.81 391.10,140.29 391.20,139.73 391.30,139.09 391.40,138.16 391.50,137.14 391.50,137.10 391.60,135.76 391.70,134.36 391.80,132.60 391.90,130.32 392.00,128.42 392.00,128.33 392.10,125.98 392.20,123.87 392.30,121.56 392.40,119.52 392.50,117.62 392.50,117.90 392.60,116.37 392.70,115.36 392.80,115.32 392.90,115.22 393.00,116.28 393.00,116.06 393.10,117.28 393.20,118.93 393.30,120.86 393.40,123.01 393.50,125.38 393.50,125.32 393.60,127.31 393.70,129.60 393.80,131.27 393.90,133.17 394.00,134.48 394.00,134.51 394.10,135.87 394.20,136.45 394.30,137.75 394.40,138.46 394.50,138.69 394.50,138.62 394.60,138.83 394.70,139.31 394.80,139.35 394.90,139.49 395.00,139.54 395.00,139.80 395.10,139.82 395.20,139.59 395.30,139.79 395.40,139.67 395.50,139.95 395.50,139.72 395.60,139.82 395.70,139.89 395.80,139.77 395.90,139.61 396.00,139.66 396.00,139.55 396.10,139.84 396.20,139.72 396.30,139.31 396.40,139.30 396.50,139.62 396.50,139.43 396.60,139.19 396.70,139.21 396.80,138.99 396.90,138.85 397.00,138.48 397.00,138.72 397.10,138.26 397.20,137.70 397.30,137.34 397.40,136.65 397.50,135.88 397.50,135.87 397.60,134.76 397.70,133.28 397.80,131.75 397.90,129.72 398.00,127.80 398.00,127.46 398.10,125.21 398.20,122.77 398.30,120.40 398.40,118.53 398.50,116.91 398.50,116.89 398.60,116.01 398.70,115.39 398.80,115.84 398.90,116.79 399.00,118.38 399.00,118.19 399.10,120.20 399.20,122.72 399.30,124.84 399.40,127.43 399.50,129.63 399.50,129.37 399.60,131.38 399.70,132.98 399.80,134.46 399.90,135.59 400.00,136.24 400.00,136.25 400.10,136.92 400.20,137.12 400.30,137.58 400.40,137.96 400.50,137.99 400.50,138.26 400.60,138.10 400.70,138.32 400.80,138.46 400.90,138.62 401.00,138.51 401.00,138.57 401.10,138.73 401.20,138.76 401.30,138.87 401.40,138.75 401.50,138.76 401.50,138.54 401.60,138.76 401.70,138.89 401.80,138.80 401.90,138.96 402.00,139.13 402.00,138.97 402.10,139.16 402.20,139.15 402.30,139.08 402.40,139.18 402.50,139.21 402.50,138.93 402.60,139.30 402.70,138.90 402.80,139.15 402.90,139.05 403.00,139.06 403.50,139.15 404.00,139.06 404.50,139.04 405.00,139.01 405.50,138.85 406.00,138.92 406.50,138.69 407.00,138.81 407.50,138.53 408.00,138.63 408.50,138.46 409.00,138.63 409.50,138.28 410.00,138.50 410.50,138.28 411.00,138.13 411.50,138.52 412.00,138.52 412.50,138.69 413.00,138.53 413.50,138.81 414.00,139.02 414.50,139.00 415.00,139.47 415.50,139.25 416.00,139.55 416.50,139.48 417.00,139.65 417.50,139.85 418.00,140.03 418.50,140.22 419.00,140.40 419.50,140.23 420.00,140.65 420.50,140.72 421.00,140.72 421.50,141.00 422.00,141.31 422.50,141.44 423.00,141.34 423.50,141.60 424.00,141.76 424.50,142.12 425.00,142.08 425.50,142.16 426.00,142.40 426.50,142.25 427.00,142.70 427.50,142.95 428.00,143.02 428.50,142.88 429.00,143.52 429.50,143.41 430.00,143.43 430.50,143.52 431.00,143.72 431.50,143.67 432.00,143.73 432.50,143.88 433.00,143.73 433.50,144.00 434.00,143.84 434.50,144.06 435.00,144.18 435.50,144.16 436.00,144.24 436.50,144.15 437.00,144.15 437.50,144.41 438.00,144.32 438.50,144.28 439.00,144.36 439.50,144.39 440.00,144.61 440.50,144.64 441.00,144.79 441.50,144.53 442.00,144.71 442.50,144.74 443.00,144.55 443.50,144.83 444.00,144.96 444.50,144.82 445.00,144.81 445.50,145.27 446.00,144.86 446.50,145.23 447.00,145.12 447.50,145.15 448.00,145.06 448.50,145.03 449.00,145.35 449.50,145.42 450.00,145.12 450.50,145.39 451.00,145.27 451.50,145.38 452.00,145.29 452.50,145.25 453.00,145.17 453.50,145.17 454.00,145.39 454.50,145.40 455.00,145.30 455.50,145.27 456.00,145.40 456.50,145.56 457.00,145.64 457.50,145.68 458.00,145.59 458.50,145.69 459.00,145.48 459.50,145.84 460.00,145.68 460.50,145.60 461.00,145.60 461.50,145.61 462.00,145.72 462.50,145.88 463.00,145.72 463.50,145.94 464.00,145.87 464.50,145.67 465.00,145.76 465.50,145.81 466.00,145.89 466.50,146.18 467.00,146.27 467.50,146.04 468.00,146.07 468.50,145.96 469.00,146.21 469.50,146.00 470.00,146.07 470.50,146.16 471.00,146.27 471.50,146.23 472.00,145.94 472.50,146.28 473.00,146.22 473.50,146.32 474.00,146.47 474.50,146.14 475.00,146.38 475.50,146.49 476.00,146.22 476.50,146.58 477.00,146.52 477.50,146.50 478.00,146.40 478.50,146.57 479.00,146.62 479.50,146.47 480.00,146.51 480.50,146.50 481.00,146.66 481.50,146.69 482.00,146.78 482.50,146.73 483.00,146.67 483.50,146.73 484.00,146.64" fill="none" stroke="#e4e05a" stroke-width="1.1" stroke-linejoin="round" />
<polyline points="320.00,128.97 320.50,129.15 321.00,129.01 321.50,128.76 322.00,128.82 322.50,128.99 323.00,128.88 323.50,129.03 324.00,128.65 324.50,129.13 325.00,129.11 325.50,128.70 326.00,128.84 326.50,128.80 327.00,128.83 327.50,128.99 328.00,128.81 328.50,128.76 329.00,128.96 329.50,129.03 330.00,128.82 330.50,128.90 331.00,128.69 331.50,128.99 332.00,129.14 332.50,128.94 333.00,128.85 333.50,128.61 334.00,128.82 334.50,128.60 335.00,128.95 335.50,129.07 336.00,129.02 336.50,128.87 337.00,128.91 337.50,128.76 338.00,128.87 338.50,128.87 339.00,128.84 339.50,128.51 340.00,128.87 340.50,128.89 341.00,128.74 341.50,128.88 342.00,128.92 342.50,128.56 343.00,128.93 343.50,128.75 344.00,128.67 344.50,128.83 345.00,128.71 345.50,128.74 346.00,128.67 346.50,128.71 347.00,128.64 347.50,128.72 348.00,128.65 348.50,128.62 349.00,128.92 349.50,128.79 350.00,128.84 350.50,129.00 351.00,128.87 351.50,128.78 352.00,128.64 352.50,128.88 353.00,128.83 353.50,128.90 354.00,128.76 354.50,128.72 355.00,128.51 355.50,128.83 356.00,128.57 356.50,128.70 357.00,128.82 357.50,128.76 358.00,128.74 358.50,128.81 359.00,128.53 359.50,128.75 360.00,128.90 360.50,128.89 361.00,128.55 361.50,128.85 362.00,128.79 362.50,128.61 363.00,128.56 363.50,128.71 364.00,128.90 364.50,128.78 365.00,128.60 365.50,128.73 366.00,128.85 366.50,128.70 367.00,128.65 367.50,128.77 368.00,128.45 368.50,128.76 369.00,128.53 369.50,128.69 370.00,128.74 370.50,128.67 371.00,128.59 371.50,128.64 372.00,128.78 372.50,128.51 373.00,128.56 373.50,128.71 374.00,128.77 374.50,128.66 375.00,128.59 375.50,128.74 376.00,128.60 376.50,128.90 377.00,128.80 377.50,128.86 378.00,128.50 378.50,128.54 379.00,128.55 379.50,128.40 380.00,128.45 380.50,128.59 381.00,128.30 381.50,128.33 382.00,128.49 382.50,128.28 383.00,128.23 383.50,128.09 384.00,127.93 384.50,127.88 385.00,127.87 385.50,127.68 386.00,127.65 386.50,127.48 387.00,127.41 387.50,127.47 388.00,127.19 388.10,126.92 388.20,127.02 388.30,127.24 388.40,127.19 388.50,126.78 388.50,126.98 388.60,126.89 388.70,126.53 388.80,126.83 388.90,126.99 389.00,126.61 389.00,126.66 389.10,126.76 389.20,126.53 389.30,126.47 389.40,126.50 389.50,126.22 389.50,126.46 389.60,126.17 389.70,126.27 389.80,126.29 389.90,126.31 390.00,125.92 390.00,126.05 390.10,125.96 390.20,125.60 390.30,125.71 390.40,125.63 390.50,125.55 390.50,125.72 390.60,125.35 390.70,125.17 390.80,124.98 390.90,124.76 391.00,124.54 391.00,124.68 391.10,124.00 391.20,123.68 391.30,122.80 391.40,122.14 391.50,121.40 391.50,121.12 391.60,120.21 391.70,118.83 391.80,116.77 391.90,114.68 392.00,112.39 392.00,112.33 392.10,109.80 392.20,107.02 392.30,104.54 392.40,101.96 392.50,99.74 392.50,99.47 392.60,97.97 392.70,96.98 392.80,96.67 392.90,96.84 393.00,98.03 393.00,98.06 393.10,99.52 393.20,101.81 393.30,104.15 393.40,106.67 393.50,109.44 393.50,109.61 393.60,112.03 393.70,114.31 393.80,116.46 393.90,118.19 394.00,119.57 394.00,119.32 394.10,120.40 394.20,121.41 394.30,122.51 394.40,122.92 394.50,123.04 394.50,123.32 394.60,123.35 394.70,123.76 394.80,124.02 394.90,124.02 395.00,124.23 395.00,124.24 395.10,124.00 395.20,124.26 395.30,124.37 395.40,124.29 395.50,124.21 395.50,124.56 395.60,124.43 395.70,124.33 395.80,124.30 395.90,124.39 396.00,124.53 396.00,124.32 396.10,124.42 396.20,124.36 396.30,124.26 396.40,124.24 396.50,124.19 396.50,124.06 396.60,123.93 396.70,124.11 396.80,124.10 396.90,123.87 397.00,123.55 397.00,123.66 397.10,123.39 397.20,123.03 397.30,122.73 397.40,122.30 397.50,121.78 397.50,121.57 397.60,120.94 397.70,119.60 397.80,118.18 397.90,116.22 398.00,113.82 398.00,113.81 398.10,111.24 398.20,108.47 398.30,105.78 398.40,103.43 398.50,101.29 398.50,101.40 398.60,100.03 398.70,99.42 398.80,99.97 398.90,101.27 399.00,103.29 399.00,103.14 399.10,105.79 399.20,108.32 399.30,111.12 399.40,113.81 399.50,116.05 399.50,115.92 399.60,117.80 399.70,119.45 399.80,120.62 399.90,121.86 400.00,122.14 400.00,122.09 400.10,123.00 400.20,122.88 400.30,123.27 400.40,123.59 400.50,123.68 400.50,123.72 400.60,123.99 400.70,124.19 400.80,124.02 400.90,124.12 401.00,124.10 401.00,124.08 401.10,124.15 401.20,124.28 401.30,124.24 401.40,124.38 401.50,124.32 401.50,124.25 401.60,124.37 401.70,124.41 401.80,124.41 401.90,124.44 402.00,124.57 402.00,124.35 402.10,124.64 402.20,124.47 402.30,124.54 402.40,124.72 402.50,124.69 402.50,124.36 402.60,124.63 402.70,124.75 402.80,124.48 402.90,124.55 403.00,124.76 403.50,124.45 404.00,124.79 404.50,124.39 405.00,124.42 405.50,124.39 406.00,124.34 406.50,124.43 407.00,124.32 407.50,124.23 408.00,124.16 408.50,123.88 409.00,123.93 409.50,124.08 410.00,123.76 410.50,124.03 411.00,123.83 411.50,123.72 412.00,123.96 412.50,124.00 413.00,123.89 413.50,123.97 414.00,124.02 414.50,124.14 415.00,124.04 415.50,124.34 416.00,124.67 416.50,124.56 417.00,124.77 417.50,124.93 418.00,124.95 418.50,124.98 419.00,125.07 419.50,125.17 420.00,125.38 420.50,125.40 421.00,125.64 421.50,125.86 422.00,125.81 422.50,125.68 423.00,125.98 423.50,126.01 424.00,126.07 424.50,126.11 425.00,126.23 425.50,126.71 426.00,126.75 426.50,126.64 427.00,126.36 427.50,126.52 428.00,126.66 428.50,126.52 429.00,126.67 429.50,126.75 430.00,126.83 430.50,126.73 431.00,126.74 431.50,126.70 432.00,126.72 432.50,126.80 433.00,126.80 433.50,126.94 434.00,126.91 434.50,126.87 435.00,127.10 435.50,126.91 436.00,127.05 436.50,127.07 437.00,126.96 437.50,127.06 438.00,127.12 438.50,127.05 439.00,126.99 439.50,127.49 440.00,127.12 440.50,127.19 441.00,127.22 441.50,127.28 442.00,127.41 442.50,127.43 443.00,127.29 443.50,127.43 444.00,127.49 444.50,127.41 445.00,127.59 445.50,127.51 446.00,127.61 446.50,127.39 447.00,127.74 447.50,127.53 448.00,127.44 448.50,127.47 449.00,127.50 449.50,127.64 450.00,127.35 450.50,127.51 451.00,127.77 451.50,127.80 452.00,127.54 452.50,127.70 453.00,127.73 453.50,127.69 454.00,127.66 454.50,127.84 455.00,127.72 455.50,127.79 456.00,127.88 456.50,127.68 457.00,127.70 457.50,128.09 458.00,127.71 458.50,127.98 459.00,128.00 459.50,127.88 460.00,127.85 460.50,127.89 461.00,127.82 461.50,127.93 462.00,127.91 462.50,127.89 463.00,127.92 463.50,128.07 464.00,127.99 464.50,127.97 465.00,128.24 465.50,128.02 466.00,128.11 466.50,127.95 467.00,127.94 467.50,128.13 468.00,128.20 468.50,127.74 469.00,128.19 469.50,128.22 470.00,128.14 470.50,128.23 471.00,128.04 471.50,128.22 472.00,128.05 472.50,128.17 473.00,128.16 473.50,128.24 474.00,128.07 474.50,128.28 475.00,128.30 475.50,128.41 476.00,128.21 476.50,128.35 477.00,128.23 477.50,128.38 478.00,128.26 478.50,128.22 479.00,128.29 479.50,128.56 480.00,128.56 480.50,128.41 481.00,128.42 481.50,128.47 482.00,128.26 482.50,128.68 483.00,128.34 483.50,128.32 484.00,128.45" fill="none" stroke="#b2d044" stroke-width="1.1" stroke-linejoin="round" />
<polyline points="320.00,113.00 320.50,112.85 321.00,113.16 321.50,113.18 322.00,113.05 322.50,113.13 323.00,113.29 323.50,113.21 324.00,113.16 324.50,113.16 325.00,112.97 325.50,113.19 326.00,112.87 326.50,113.03 327.00,113.01 327.50,112.85 328.00,113.04 328.50,113.25 329.00,113.01 329.50,112.91 330.00,113.04 330.50,113.15 331.00,113.07 331.50,113.04 332.00,112.87 332.50,113.10 333.00,113.09 333.50,113.19 334.00,113.21 334.50,113.11 335.00,112.83 335.50,112.85 336.00,112.89 336.50,113.05 337.00,112.92 337.50,113.17 338.00,113.04 338.50,113.05 339.00,113.09 339.50,113.04 340.00,112.83 340.50,113.29 341.00,113.17 341.50,113.17 342.00,112.90 342.50,112.76 343.00,112.80 343.50,112.85 344.00,113.08 344.50,113.08 345.00,113.15 345.50,113.23 346.00,113.03 346.50,113.01 347.00,112.92 347.50,112.92 348.00,112.82 348.50,113.01 349.00,112.99 349.50,112.90 350.00,112.85 350.50,113.00 351.00,113.10 351.50,112.95 352.00,112.97 352.50,112.87 353.00,112.90 353.50,112.89 354.00,112.89 354.50,112.85 355.00,112.97 355.50,113.07 356.00,112.80 356.50,113.08 357.00,112.86 357.50,112.86 358.00,112.64 358.50,112.61 359.00,112.99 359.50,112.76 360.00,112.99 360.50,112.90 361.00,112.92 361.50,113.04 362.00,112.87 362.50,112.49 363.00,112.67 363.50,112.99 364.00,113.11 364.50,112.86 365.00,112.78 365.50,112.69 366.00,112.92 366.50,112.64 367.00,112.70 367.50,112.87 368.00,112.86 368.50,112.81 369.00,112.97 369.50,112.69 370.00,112.69 370.50,112.78 371.00,112.84 371.50,112.78 372.00,113.06 372.50,112.75 373.00,112.89 373.50,112.74 374.00,112.85 374.50,112.75 375.00,112.75 375.50,112.99 376.00,112.75 376.50,112.99 377.00,112.69 377.50,112.72 378.00,112.90 378.50,112.45 379.00,112.53 379.50,112.71 380.00,112.73 380.50,112.70 381.00,112.55 381.50,112.36 382.00,112.58 382.50,112.47 383.00,112.21 383.50,112.29 384.00,112.43 384.50,112.15 385.00,111.92 385.50,111.94 386.00,111.86 386.50,111.86 387.00,111.84 387.50,111.52 388.00,111.45 388.10,111.63 388.20,111.57 388.30,111.62 388.40,111.25 388.50,111.29 388.50,111.53 388.60,111.26 388.70,111.39 388.80,111.31 388.90,111.20 389.00,111.44 389.00,111.26 389.10,111.17 389.20,111.18 389.30,111.19 389.40,110.94 389.50,110.99 389.50,110.94 389.60,110.80 389.70,111.13 389.80,111.15 389.90,111.08 390.00,110.67 390.00,110.93 390.10,110.92 390.20,110.71 390.30,110.83 390.40,110.54 390.50,110.48 390.50,110.51 390.60,110.46 390.70,110.35 390.80,110.50 390.90,110.16 391.00,110.12 391.00,110.10 391.10,110.30 391.20,109.73 391.30,109.65 391.40,109.49 391.50,108.68 391.50,108.72 391.60,108.19 391.70,107.31 391.80,106.65 391.90,105.25 392.00,104.03 392.00,103.97 392.10,102.31 392.20,100.70 392.30,98.78 392.40,97.25 392.50,95.46 392.50,95.53 392.60,94.58 392.70,93.41 392.80,93.45 392.90,93.58 393.00,94.29 393.00,94.27 393.10,95.65 393.20,96.78 393.30,98.72 393.40,100.40 393.50,101.97 393.50,102.01 393.60,103.66 393.70,104.87 393.80,105.90 393.90,107.04 394.00,107.63 394.00,107.68 394.10,108.28 394.20,108.77 394.30,109.18 394.40,109.21 394.50,109.32 394.50,109.40 394.60,109.44 394.70,109.27 394.80,109.45 394.90,109.41 395.00,109.67 395.00,109.74 395.10,109.64 395.20,109.49 395.30,109.71 395.40,109.50 395.50,109.64 395.50,109.47 395.60,109.43 395.70,109.42 395.80,109.57 395.90,109.47 396.00,109.57 396.00,109.36 396.10,109.55 396.20,109.37 396.30,109.56 396.40,109.48 396.50,109.28 396.50,109.32 396.60,109.27 396.70,109.23 396.80,109.07 396.90,109.14 397.00,108.85 397.00,108.68 397.10,108.81 397.20,108.62 397.30,108.52 397.40,108.20 397.50,107.73 397.50,107.73 397.60,107.12 397.70,106.15 397.80,104.86 397.90,103.28 398.00,101.28 398.00,101.02 398.10,98.73 398.20,95.85 398.30,93.04 398.40,90.20 398.50,88.03 398.50,88.00 398.60,86.68 398.70,85.95 398.80,86.47 398.90,87.99 399.00,90.02 399.00,90.11 399.10,93.14 399.20,95.92 399.30,98.66 399.40,101.27 399.50,103.18 399.50,103.17 399.60,104.78 399.70,105.81 399.80,106.98 399.90,107.44 400.00,107.85 400.00,107.82 400.10,108.05 400.20,108.05 400.30,108.47 400.40,108.82 400.50,108.76 400.50,108.61 400.60,108.60 400.70,108.77 400.80,108.87 400.90,108.85 401.00,109.01 401.00,108.79 401.10,109.07 401.20,108.99 401.30,108.93 401.40,108.98 401.50,109.08 401.50,109.13 401.60,109.06 401.70,109.13 401.80,109.36 401.90,108.88 402.00,108.84 402.00,109.09 402.10,108.97 402.20,109.10 402.30,108.89 402.40,109.10 402.50,109.24 402.50,109.22 402.60,108.95 402.70,109.04 402.80,109.17 402.90,109.28 403.00,108.94 403.50,108.90 404.00,109.07 404.50,108.81 405.00,108.65 405.50,108.81 406.00,108.39 406.50,108.41 407.00,108.52 407.50,108.22 408.00,108.29 408.50,107.96 409.00,108.11 409.50,107.99 410.00,108.05 410.50,107.77 411.00,107.73 411.50,107.75 412.00,107.90 412.50,107.72 413.00,107.85 413.50,108.18 414.00,108.14 414.50,108.24 415.00,108.20 415.50,108.48 416.00,108.35 416.50,108.43 417.00,108.61 417.50,109.01 418.00,108.98 418.50,108.96 419.00,109.15 419.50,109.36 420.00,109.57 420.50,109.35 421.00,109.82 421.50,109.89 422.00,109.80 422.50,109.95 423.00,110.17 423.50,110.18 424.00,110.33 424.50,110.28 425.00,110.27 425.50,110.85 426.00,110.65 426.50,110.71 427.00,110.80 427.50,110.94 428.00,110.94 428.50,110.75 429.00,110.90 429.50,110.96 430.00,111.08 430.50,110.96 431.00,111.12 431.50,111.14 432.00,111.32 432.50,110.88 433.00,111.24 433.50,111.31 434.00,111.39 434.50,111.35 435.00,111.29 435.50,111.51 436.00,111.52 436.50,111.41 437.00,111.39 437.50,111.66 438.00,111.53 438.50,111.75 439.00,111.90 439.50,111.78 440.00,111.82 440.50,111.85 441.00,112.04 441.50,112.08 442.00,111.96 442.50,112.08 443.00,112.03 443.50,112.00 444.00,112.19 444.50,112.11 445.00,112.05 445.50,111.99 446.00,112.31 446.50,112.09 447.00,112.08 447.50,112.19 448.00,112.32 448.50,112.03 449.00,112.32 449.50,112.30 450.00,112.11 450.50,112.13 451.00,112.25 451.50,112.51 452.00,112.26 452.50,112.42 453.00,112.41 453.50,112.11 454.00,112.31 454.50,112.44 455.00,112.26 455.50,112.48 456.00,112.21 456.50,112.17 457.00,112.30 457.50,112.43 458.00,112.32 458.50,112.48 459.00,112.19 459.50,112.31 460.00,112.55 460.50,112.10 461.00,112.44 461.50,112.30 462.00,112.32 462.50,112.38 463.00,112.25 463.50,112.54 464.00,112.51 464.50,112.59 465.00,112.47 465.50,112.34 466.00,112.54 466.50,112.31 467.00,112.37 467.50,112.74 468.00,112.62 468.50,112.55 469.00,112.68 469.50,112.47 470.00,112.59 470.50,112.42 471.00,112.49 471.50,112.55 472.00,112.72 472.50,112.46 473.00,112.68 473.50,112.56 474.00,112.36 474.50,112.34 475.00,112.50 475.50,112.71 476.00,112.62 476.50,112.82 477.00,112.63 477.50,112.78 478.00,112.65 478.50,112.51 479.00,112.72 479.50,112.55 480.00,112.47 480.50,112.56 481.00,112.61 481.50,112.69 482.00,112.77 482.50,112.75 483.00,112.93 483.50,112.45 484.00,112.67" fill="none" stroke="#30bc3c" stroke-width="1.1" stroke-linejoin="round" />
<polyline points="320.00,92.55 320.50,92.73 321.00,92.78 321.50,92.75 322.00,92.57 322.50,92.81 323.00,92.76 323.50,92.75 324.00,92.75 324.50,92.79 325.00,92.93 325.50,92.58 326.00,92.65 326.50,92.85 327.00,92.48 327.50,92.67 328.00,92.55 328.50,92.62 329.00,92.68 329.50,92.39 330.00,92.50 330.50,92.44 331.00,92.58 331.50,92.52 332.00,92.78 332.50,92.52 333.00,92.79 333.50,92.54 334.00,92.61 334.50,92.58 335.00,92.57 335.50,92.43 336.00,92.60 336.50,92.61 337.00,92.58 337.50,92.63 338.00,92.45 338.50,92.51 339.00,92.46 339.50,92.33 340.00,92.57 340.50,92.45 341.00,92.51 341.50,92.79 342.00,92.54 342.50,92.52 343.00,92.63 343.50,92.65 344.00,92.71 344.50,92.43 345.00,92.70 345.50,92.47 346.00,92.34 346.50,92.36 347.00,92.60 347.50,92.56 348.00,92.62 348.50,92.35 349.00,92.41 349.50,92.31 350.00,92.21 350.50,92.44 351.00,92.63 351.50,92.57 352.00,92.33 352.50,92.56 353.00,92.35 353.50,92.45 354.00,92.51 354.50,92.36 355.00,92.30 355.50,92.48 356.00,92.37 356.50,92.32 357.00,92.46 357.50,92.36 358.00,92.42 358.50,92.26 359.00,92.45 359.50,92.25 360.00,92.31 360.50,92.13 361.00,92.49 361.50,92.36 362.00,92.40 362.50,92.13 363.00,92.35 363.50,92.28 364.00,92.47 364.50,92.13 365.00,92.36 365.50,92.44 366.00,92.16 366.50,92.31 367.00,92.17 367.50,92.30 368.00,92.33 368.50,92.44 369.00,92.30 369.50,92.19 370.00,92.34 370.50,92.26 371.00,92.39 371.50,92.18 372.00,92.41 372.50,92.27 373.00,92.27 373.50,92.36 374.00,92.17 374.50,92.16 375.00,92.28 375.50,92.20 376.00,92.22 376.50,92.16 377.00,92.16 377.50,92.30 378.00,92.42 378.50,92.01 379.00,92.35 379.50,92.24 380.00,92.29 380.50,92.15 381.00,92.02 381.50,92.07 382.00,91.96 382.50,91.85 383.00,92.02 383.50,92.04 384.00,91.95 384.50,91.98 385.00,91.75 385.50,92.03 386.00,91.85 386.50,91.84 387.00,91.88 387.50,91.69 388.00,92.01 388.10,91.84 388.20,91.83 388.30,91.68 388.40,91.57 388.50,91.70 388.50,91.55 388.60,91.66 388.70,91.64 388.80,91.75 388.90,91.64 389.00,91.59 389.00,91.74 389.10,91.54 389.20,91.47 389.30,91.46 389.40,91.68 389.50,91.49 389.50,91.41 389.60,91.23 389.70,91.32 389.80,91.46 389.90,91.47 390.00,91.57 390.00,91.29 390.10,91.41 390.20,91.48 390.30,91.02 390.40,91.54 390.50,91.10 390.50,91.10 390.60,91.31 390.70,91.21 390.80,91.27 390.90,91.16 391.00,91.07 391.00,91.02 391.10,90.88 391.20,90.97 391.30,90.57 391.40,90.64 391.50,90.58 391.50,90.34 391.60,90.32 391.70,89.98 391.80,89.39 391.90,88.73 392.00,88.03 392.00,88.04 392.10,86.99 392.20,86.19 392.30,84.99 392.40,83.79 392.50,82.81 392.50,82.80 392.60,81.64 392.70,81.57 392.80,80.89 392.90,81.25 393.00,81.61 393.00,81.82 393.10,82.60 393.20,83.57 393.30,84.30 393.40,85.85 393.50,86.82 393.50,86.54 393.60,87.88 393.70,88.44 393.80,88.96 393.90,89.55 394.00,89.76 394.00,89.87 394.10,90.00 394.20,90.09 394.30,90.15 394.40,90.44 394.50,90.39 394.50,90.29 394.60,90.33 394.70,90.30 394.80,90.67 394.90,90.45 395.00,90.41 395.00,90.57 395.10,90.30 395.20,90.23 395.30,90.27 395.40,90.33 395.50,90.25 395.50,90.23 395.60,90.26 395.70,90.15 395.80,90.02 395.90,90.19 396.00,90.02 396.00,90.01 396.10,90.05 396.20,89.97 396.30,89.71 396.40,89.68 396.50,89.51 396.50,89.53 396.60,89.61 396.70,89.41 396.80,89.23 396.90,89.05 397.00,89.21 397.00,89.01 397.10,88.91 397.20,88.65 397.30,88.27 397.40,88.04 397.50,87.43 397.50,87.57 397.60,86.61 397.70,85.05 397.80,83.20 397.90,80.38 398.00,76.58 398.00,76.44 398.10,71.58 398.20,66.13 398.30,60.12 398.40,54.05 398.50,49.45 398.50,49.31 398.60,45.84 398.70,44.96 398.80,45.69 398.90,49.05 399.00,53.98 399.00,54.26 399.10,59.88 399.20,66.10 399.30,71.66 399.40,76.34 399.50,80.20 399.50,80.04 399.60,83.08 399.70,84.82 399.80,86.14 399.90,87.18 400.00,87.60 400.00,87.88 400.10,88.19 400.20,88.08 400.30,88.49 400.40,88.60 400.50,89.01 400.50,88.68 400.60,88.79 400.70,88.93 400.80,89.02 400.90,89.01 401.00,89.22 401.00,89.13 401.10,89.15 401.20,89.49 401.30,89.37 401.40,89.27 401.50,89.27 401.50,89.39 401.60,89.32 401.70,89.34 401.80,89.65 401.90,89.52 402.00,89.49 402.00,89.58 402.10,89.51 402.20,89.60 402.30,89.82 402.40,89.61 402.50,89.54 402.50,89.48 402.60,89.70 402.70,89.61 402.80,89.68 402.90,89.44 403.00,89.59 403.50,89.63 404.00,89.65 404.50,89.57 405.00,89.45 405.50,89.57 406.00,89.35 406.50,89.03 407.00,89.05 407.50,89.12 408.00,89.08 408.50,88.81 409.00,88.75 409.50,88.87 410.00,88.80 410.50,88.76 411.00,88.77 411.50,88.68 412.00,88.58 412.50,88.85 413.00,88.86 413.50,89.00 414.00,88.91 414.50,88.94 415.00,89.03 415.50,89.12 416.00,88.94 416.50,89.23 417.00,89.28 417.50,89.45 418.00,89.52 418.50,89.53 419.00,89.59 419.50,89.56 420.00,89.84 420.50,89.83 421.00,89.92 421.50,90.17 422.00,90.25 422.50,90.16 423.00,90.47 423.50,90.43 424.00,90.42 424.50,90.37 425.00,90.43 425.50,90.70 426.00,90.40 426.50,90.89 427.00,90.81 427.50,90.72 428.00,90.99 428.50,90.86 429.00,90.72 429.50,90.82 430.00,90.81 430.50,90.83 431.00,91.24 431.50,91.05 432.00,91.05 432.50,91.21 433.00,91.22 433.50,91.10 434.00,91.10 434.50,91.01 435.00,91.40 435.50,91.29 436.00,91.46 436.50,91.39 437.00,91.26 437.50,91.39 438.00,91.68 438.50,91.46 439.00,91.63 439.50,91.32 440.00,91.54 440.50,91.79 441.00,91.48 441.50,91.87 442.00,91.72 442.50,91.74 443.00,92.02 443.50,91.81 444.00,92.03 444.50,91.88 445.00,91.99 445.50,92.08 446.00,92.10 446.50,91.94 447.00,91.70 447.50,92.18 448.00,91.90 448.50,92.12 449.00,91.86 449.50,91.90 450.00,91.96 450.50,91.94 451.00,92.18 451.50,91.73 452.00,91.87 452.50,91.96 453.00,91.98 453.50,91.92 454.00,91.94 454.50,92.03 455.00,91.84 455.50,91.83 456.00,91.88 456.50,91.97 457.00,91.71 457.50,92.10 458.00,91.83 458.50,91.79 459.00,91.82 459.50,91.72 460.00,91.74 460.50,91.81 461.00,91.90 461.50,91.92 462.00,91.78 462.50,91.79 463.00,91.87 463.50,91.58 464.00,91.79 464.50,91.93 465.00,92.00 465.50,91.77 466.00,91.62 466.50,91.71 467.00,91.93 467.50,92.02 468.00,91.75 468.50,91.58 469.00,91.78 469.50,91.85 470.00,91.86 470.50,91.79 471.00,92.03 471.50,91.73 472.00,92.07 472.50,91.59 473.00,91.89 473.50,91.85 474.00,91.81 474.50,91.61 475.00,91.68 475.50,91.55 476.00,91.69 476.50,91.72 477.00,91.75 477.50,91.53 478.00,91.58 478.50,91.40 479.00,91.66 479.50,91.53 480.00,91.77 480.50,91.57 481.00,91.70 481.50,91.58 482.00,91.62 482.50,91.60 483.00,91.47 483.50,91.72 484.00,91.50" fill="none" stroke="#3a44aa" stroke-width="1.1" stroke-linejoin="round" />
<text x="320.6" y="83.10000000000001" font-size="9.0" text-anchor="start" stroke="#1a1a1a" stroke-width="0.25" >111K</text>
<text x="320.6" y="105.4" font-size="9.0" text-anchor="start" stroke="#1a1a1a" stroke-width="0.25" >152K</text>
<text x="320.6" y="122.60000000000001" font-size="9.0" text-anchor="start" stroke="#1a1a1a" stroke-width="0.25" >179K</text>
<text x="320.6" y="142.2" font-size="9.0" text-anchor="start" stroke="#1a1a1a" stroke-width="0.25" >212K</text>
<text x="320.6" y="160.0" font-size="9.0" text-anchor="start" stroke="#1a1a1a" stroke-width="0.25" >241K</text>
<text x="320.6" y="175.6" font-size="9.0" text-anchor="start" stroke="#1a1a1a" stroke-width="0.25" >272K</text>
<text x="320.6" y="191.5" font-size="9.0" text-anchor="start" stroke="#1a1a1a" stroke-width="0.25" >291K</text>
<text x="319.50" y="210.6" font-size="10.8" text-anchor="middle" stroke="#1a1a1a" stroke-width="0.25" >600</text>
<text x="360.75" y="210.6" font-size="10.8" text-anchor="middle" stroke="#1a1a1a" stroke-width="0.25" >650</text>
<text x="402.00" y="210.6" font-size="10.8" text-anchor="middle" stroke="#1a1a1a" stroke-width="0.25" >700</text>
<text x="443.25" y="210.6" font-size="10.8" text-anchor="middle" stroke="#1a1a1a" stroke-width="0.25" >750</text>
<text x="484.50" y="210.6" font-size="10.8" text-anchor="middle" stroke="#1a1a1a" stroke-width="0.25" >800</text>
<text x="319.50" y="24.0" font-size="11.0" text-anchor="middle" stroke="#1a1a1a" stroke-width="0.25" >2.07</text>
<text x="360.75" y="24.0" font-size="11.0" text-anchor="middle" stroke="#1a1a1a" stroke-width="0.25" >1.91</text>
<text x="402.00" y="24.0" font-size="11.0" text-anchor="middle" stroke="#1a1a1a" stroke-width="0.25" >1.77</text>
<text x="443.25" y="24.0" font-size="11.0" text-anchor="middle" stroke="#1a1a1a" stroke-width="0.25" >1.65</text>
<text x="484.50" y="24.0" font-size="11.0" text-anchor="middle" stroke="#1a1a1a" stroke-width="0.25" >1.55</text>
<text x="402.8" y="11.7" font-size="14.4" text-anchor="middle" stroke="#1a1a1a" stroke-width="0.25" >Energy (eV)</text>
<text x="407.9" y="225.9" font-size="14.6" text-anchor="middle" stroke="#1a1a1a" stroke-width="0.25" >Wavelength (nm)</text>
<text x="0" y="0" font-size="14.3" text-anchor="middle" stroke="#1a1a1a" stroke-width="0.25" transform="translate(307.6,113.2) rotate(-90)">Intensity (arb.units)</text>
<text x="287.8" y="24.9" font-size="14.5" text-anchor="start" stroke="#1a1a1a" stroke-width="0.25" >(b)</text>
<text x="390.6" y="39.6" font-size="8.6" text-anchor="start" stroke="#1a1a1a" stroke-width="0.25" >R</text>
<text x="397.6" y="42.7" font-size="5.0" text-anchor="start" stroke="#1a1a1a" stroke-width="0.25" >2</text>
<text x="383.5" y="72.0" font-size="8.6" text-anchor="start" stroke="#1a1a1a" stroke-width="0.25" >R</text>
<text x="389.9" y="75.0" font-size="5.0" text-anchor="start" stroke="#1a1a1a" stroke-width="0.25" >1</text>
<rect x="30.5" y="269.5" width="211.0" height="170.0" fill="none" stroke="#3c3c3c" stroke-width="1"/>
<line x1="53.94" y1="439.5" x2="53.94" y2="442.0" stroke="#3c3c3c" stroke-width="1"/>
<line x1="53.94" y1="269.5" x2="53.94" y2="267.0" stroke="#3c3c3c" stroke-width="1"/>
<line x1="100.83" y1="439.5" x2="100.83" y2="442.0" stroke="#3c3c3c" stroke-width="1"/>
<line x1="100.83" y1="269.5" x2="100.83" y2="267.0" stroke="#3c3c3c" stroke-width="1"/>
<line x1="147.72" y1="439.5" x2="147.72" y2="442.0" stroke="#3c3c3c" stroke-width="1"/>
<line x1="147.72" y1="269.5" x2="147.72" y2="267.0" stroke="#3c3c3c" stroke-width="1"/>
<line x1="194.61" y1="439.5" x2="194.61" y2="442.0" stroke="#3c3c3c" stroke-width="1"/>
<line x1="194.61" y1="269.5" x2="194.61" y2="267.0" stroke="#3c3c3c" stroke-width="1"/>
<line x1="241.50" y1="439.5" x2="241.50" y2="442.0" stroke="#3c3c3c" stroke-width="1"/>
<line x1="241.50" y1="269.5" x2="241.50" y2="267.0" stroke="#3c3c3c" stroke-width="1"/>
<line x1="77.39" y1="439.5" x2="77.39" y2="438.0" stroke="#3c3c3c" stroke-width="1"/>
<line x1="77.39" y1="269.5" x2="77.39" y2="271.0" stroke="#3c3c3c" stroke-width="1"/>
<line x1="124.28" y1="439.5" x2="124.28" y2="438.0" stroke="#3c3c3c" stroke-width="1"/>
<line x1="124.28" y1="269.5" x2="124.28" y2="271.0" stroke="#3c3c3c" stroke-width="1"/>
<line x1="171.17" y1="439.5" x2="171.17" y2="438.0" stroke="#3c3c3c" stroke-width="1"/>
<line x1="171.17" y1="269.5" x2="171.17" y2="271.0" stroke="#3c3c3c" stroke-width="1"/>
<line x1="218.06" y1="439.5" x2="218.06" y2="438.0" stroke="#3c3c3c" stroke-width="1"/>
<line x1="218.06" y1="269.5" x2="218.06" y2="271.0" stroke="#3c3c3c" stroke-width="1"/>
<text x="53.94" y="453.4" font-size="10.8" text-anchor="middle" stroke="#1a1a1a" stroke-width="0.25" >4.6</text>
<text x="100.83" y="453.4" font-size="10.8" text-anchor="middle" stroke="#1a1a1a" stroke-width="0.25" >4.8</text>
<text x="147.72" y="453.4" font-size="10.8" text-anchor="middle" stroke="#1a1a1a" stroke-width="0.25" >5.0</text>
<text x="194.61" y="453.4" font-size="10.8" text-anchor="middle" stroke="#1a1a1a" stroke-width="0.25" >5.2</text>
<text x="241.50" y="453.4" font-size="10.8" text-anchor="middle" stroke="#1a1a1a" stroke-width="0.25" >5.4</text>
<text x="53.94" y="262.2" font-size="11.1" text-anchor="middle" stroke="#1a1a1a" stroke-width="0.25" >270</text>
<text x="100.83" y="262.2" font-size="11.1" text-anchor="middle" stroke="#1a1a1a" stroke-width="0.25" >258</text>
<text x="147.72" y="262.2" font-size="11.1" text-anchor="middle" stroke="#1a1a1a" stroke-width="0.25" >248</text>
<text x="194.61" y="262.2" font-size="11.1" text-anchor="middle" stroke="#1a1a1a" stroke-width="0.25" >238</text>
<text x="241.50" y="262.2" font-size="11.1" text-anchor="middle" stroke="#1a1a1a" stroke-width="0.25" >230</text>
<line x1="30.5" y1="354.5" x2="28.7" y2="354.5" stroke="#3c3c3c" stroke-width="1"/>
<text x="3.1" y="262.8" font-size="14.5" text-anchor="start" stroke="#1a1a1a" stroke-width="0.25" >(c)</text>
<rect x="299.5" y="269.5" width="210.0" height="170.0" fill="none" stroke="#3c3c3c" stroke-width="1"/>
<line x1="322.27" y1="439.5" x2="322.27" y2="442.0" stroke="#3c3c3c" stroke-width="1"/>
<line x1="322.27" y1="269.5" x2="322.27" y2="267.0" stroke="#3c3c3c" stroke-width="1"/>
<line x1="369.00" y1="439.5" x2="369.00" y2="442.0" stroke="#3c3c3c" stroke-width="1"/>
<line x1="369.00" y1="269.5" x2="369.00" y2="267.0" stroke="#3c3c3c" stroke-width="1"/>
<line x1="415.73" y1="439.5" x2="415.73" y2="442.0" stroke="#3c3c3c" stroke-width="1"/>
<line x1="415.73" y1="269.5" x2="415.73" y2="267.0" stroke="#3c3c3c" stroke-width="1"/>
<line x1="462.47" y1="439.5" x2="462.47" y2="442.0" stroke="#3c3c3c" stroke-width="1"/>
<line x1="462.47" y1="269.5" x2="462.47" y2="267.0" stroke="#3c3c3c" stroke-width="1"/>
<line x1="509.50" y1="439.5" x2="509.50" y2="442.0" stroke="#3c3c3c" stroke-width="1"/>
<line x1="509.50" y1="269.5" x2="509.50" y2="267.0" stroke="#3c3c3c" stroke-width="1"/>
<line x1="345.63" y1="439.5" x2="345.63" y2="438.0" stroke="#3c3c3c" stroke-width="1"/>
<line x1="345.63" y1="269.5" x2="345.63" y2="271.0" stroke="#3c3c3c" stroke-width="1"/>
<line x1="392.37" y1="439.5" x2="392.37" y2="438.0" stroke="#3c3c3c" stroke-width="1"/>
<line x1="392.37" y1="269.5" x2="392.37" y2="271.0" stroke="#3c3c3c" stroke-width="1"/>
<line x1="439.10" y1="439.5" x2="439.10" y2="438.0" stroke="#3c3c3c" stroke-width="1"/>
<line x1="439.10" y1="269.5" x2="439.10" y2="271.0" stroke="#3c3c3c" stroke-width="1"/>
<line x1="485.83" y1="439.5" x2="485.83" y2="438.0" stroke="#3c3c3c" stroke-width="1"/>
<line x1="485.83" y1="269.5" x2="485.83" y2="271.0" stroke="#3c3c3c" stroke-width="1"/>
<text x="322.27" y="453.4" font-size="10.8" text-anchor="middle" stroke="#1a1a1a" stroke-width="0.25" >4.6</text>
<text x="369.00" y="453.4" font-size="10.8" text-anchor="middle" stroke="#1a1a1a" stroke-width="0.25" >4.8</text>
<text x="415.73" y="453.4" font-size="10.8" text-anchor="middle" stroke="#1a1a1a" stroke-width="0.25" >5.0</text>
<text x="462.47" y="453.4" font-size="10.8" text-anchor="middle" stroke="#1a1a1a" stroke-width="0.25" >5.2</text>
<text x="509.50" y="453.4" font-size="10.8" text-anchor="middle" stroke="#1a1a1a" stroke-width="0.25" >5.4</text>
<text x="322.27" y="262.2" font-size="11.1" text-anchor="middle" stroke="#1a1a1a" stroke-width="0.25" >270</text>
<text x="369.00" y="262.2" font-size="11.1" text-anchor="middle" stroke="#1a1a1a" stroke-width="0.25" >258</text>
<text x="415.73" y="262.2" font-size="11.1" text-anchor="middle" stroke="#1a1a1a" stroke-width="0.25" >248</text>
<text x="462.47" y="262.2" font-size="11.1" text-anchor="middle" stroke="#1a1a1a" stroke-width="0.25" >238</text>
<text x="509.50" y="262.2" font-size="11.1" text-anchor="middle" stroke="#1a1a1a" stroke-width="0.25" >230</text>
<line x1="299.5" y1="354.5" x2="297.7" y2="354.5" stroke="#3c3c3c" stroke-width="1"/>
<line x1="509.5" y1="355.5" x2="507.5" y2="355.5" stroke="#3c3c3c" stroke-width="1"/>
<line x1="509.5" y1="399.5" x2="507.5" y2="399.5" stroke="#3c3c3c" stroke-width="1"/>
<text x="273.0" y="263.5" font-size="14.5" text-anchor="start" stroke="#1a1a1a" stroke-width="0.25" >(d)</text>
<polyline points="51.60,428.10 65.50,414.00 79.60,383.00 93.70,345.00 107.90,337.50 121.80,334.50 137.90,342.60 154.70,353.60 171.40,359.20 187.70,369.50 204.00,377.00 220.50,381.50" fill="none" stroke="#3a3a3a" stroke-width="1.3" stroke-linejoin="round" />
<polyline points="51.60,325.80 65.50,328.30 79.60,325.00 93.70,328.30 107.90,335.00 121.80,335.50 137.90,344.90 154.70,352.80 171.40,364.30 187.70,370.80 204.00,380.50 220.50,388.00" fill="none" stroke="#3a3a3a" stroke-width="1.3" stroke-linejoin="round" />
<rect x="47.00" y="423.70" width="9.2" height="8.8" fill="#404040" stroke="#303030" stroke-width="0.6"/>
<rect x="60.90" y="409.60" width="9.2" height="8.8" fill="#404040" stroke="#303030" stroke-width="0.6"/>
<rect x="75.00" y="378.60" width="9.2" height="8.8" fill="#404040" stroke="#303030" stroke-width="0.6"/>
<rect x="89.10" y="340.60" width="9.2" height="8.8" fill="#404040" stroke="#303030" stroke-width="0.6"/>
<rect x="103.30" y="333.10" width="9.2" height="8.8" fill="#404040" stroke="#303030" stroke-width="0.6"/>
<rect x="117.20" y="330.10" width="9.2" height="8.8" fill="#404040" stroke="#303030" stroke-width="0.6"/>
<rect x="133.30" y="338.20" width="9.2" height="8.8" fill="#404040" stroke="#303030" stroke-width="0.6"/>
<rect x="150.10" y="349.20" width="9.2" height="8.8" fill="#404040" stroke="#303030" stroke-width="0.6"/>
<rect x="166.80" y="354.80" width="9.2" height="8.8" fill="#404040" stroke="#303030" stroke-width="0.6"/>
<rect x="183.10" y="365.10" width="9.2" height="8.8" fill="#404040" stroke="#303030" stroke-width="0.6"/>
<rect x="199.40" y="372.60" width="9.2" height="8.8" fill="#404040" stroke="#303030" stroke-width="0.6"/>
<rect x="215.90" y="377.10" width="9.2" height="8.8" fill="#404040" stroke="#303030" stroke-width="0.6"/>
<circle cx="51.60" cy="325.80" r="4.4" fill="#ffffff" stroke="#3a3a3a" stroke-width="1.8"/>
<circle cx="65.50" cy="328.30" r="4.4" fill="#ffffff" stroke="#3a3a3a" stroke-width="1.8"/>
<circle cx="79.60" cy="325.00" r="4.4" fill="#ffffff" stroke="#3a3a3a" stroke-width="1.8"/>
<circle cx="93.70" cy="328.30" r="4.4" fill="#ffffff" stroke="#3a3a3a" stroke-width="1.8"/>
<circle cx="107.90" cy="335.00" r="4.4" fill="#ffffff" stroke="#3a3a3a" stroke-width="1.8"/>
<circle cx="121.80" cy="335.50" r="4.4" fill="#ffffff" stroke="#3a3a3a" stroke-width="1.8"/>
<circle cx="137.90" cy="344.90" r="4.4" fill="#ffffff" stroke="#3a3a3a" stroke-width="1.8"/>
<circle cx="154.70" cy="352.80" r="4.4" fill="#ffffff" stroke="#3a3a3a" stroke-width="1.8"/>
<circle cx="171.40" cy="364.30" r="4.4" fill="#ffffff" stroke="#3a3a3a" stroke-width="1.8"/>
<circle cx="187.70" cy="370.80" r="4.4" fill="#ffffff" stroke="#3a3a3a" stroke-width="1.8"/>
<circle cx="204.00" cy="380.50" r="4.4" fill="#ffffff" stroke="#3a3a3a" stroke-width="1.8"/>
<circle cx="220.50" cy="388.00" r="4.4" fill="#ffffff" stroke="#3a3a3a" stroke-width="1.8"/>
<text x="34.3" y="283.0" font-size="9.8" text-anchor="start" stroke="#1a1a1a" stroke-width="0.25" >UID WSU (100)</text>
<rect x="129.1" y="271.5" width="111.1" height="28.2" fill="#ffffff" stroke="#c8c8c8" stroke-width="0.8"/>
<line x1="130.8" y1="278.8" x2="153.7" y2="278.8" stroke="#3a3a3a" stroke-width="1.3"/>
<rect x="138.20000000000002" y="274.40000000000003" width="9.2" height="8.8" fill="#404040" stroke="#303030" stroke-width="0.6"/>
<line x1="130.8" y1="292.5" x2="153.7" y2="292.5" stroke="#3a3a3a" stroke-width="1.3"/>
<circle cx="142.8" cy="292.5" r="4.4" fill="#ffffff" stroke="#3a3a3a" stroke-width="1.8"/>
<text x="158.0" y="282.8" font-size="11.2" text-anchor="start" stroke="#1a1a1a" stroke-width="0.25" >E//b 367 nm em</text>
<text x="158.0" y="296.0" font-size="11.2" text-anchor="start" stroke="#1a1a1a" stroke-width="0.25" >E//c 367 nm em</text>
<text x="143.2" y="466.8" font-size="14.4" text-anchor="middle" stroke="#1a1a1a" stroke-width="0.25" >Excitation energy (eV)</text>
<text x="0" y="0" font-size="14.3" text-anchor="middle" stroke="#1a1a1a" stroke-width="0.25" transform="translate(16.9,354.6) rotate(-90)">Intensity (counts/photon)</text>
<polyline points="376.30,438.20 390.20,418.90 406.30,403.50 423.10,371.30 439.80,410.30 456.10,384.30 472.40,399.10 488.90,439.00" fill="none" stroke="#c4c4c4" stroke-width="0.8" stroke-linejoin="round" />
<polyline points="320.00,309.00 333.90,365.20 348.00,353.20 362.10,370.50 376.30,408.20 390.20,428.20 406.30,427.80 423.10,427.80 439.80,428.30 456.10,424.40 472.40,424.20 488.90,425.80" fill="none" stroke="#3d5818" stroke-width="1.4" stroke-linejoin="round" />
<polyline points="320.00,418.30 333.90,410.30 348.00,365.20 362.10,344.40 376.30,338.60 390.20,363.30 406.30,360.40 423.10,368.30 439.80,391.10 456.10,391.10 472.40,401.00 488.90,411.60" fill="none" stroke="#3d5818" stroke-width="1.4" stroke-linejoin="round" />
<rect x="315.40" y="413.90" width="9.2" height="8.8" fill="#467a0e" stroke="#2f4d0c" stroke-width="0.9"/>
<rect x="329.30" y="405.90" width="9.2" height="8.8" fill="#467a0e" stroke="#2f4d0c" stroke-width="0.9"/>
<rect x="343.40" y="360.80" width="9.2" height="8.8" fill="#467a0e" stroke="#2f4d0c" stroke-width="0.9"/>
<rect x="357.50" y="340.00" width="9.2" height="8.8" fill="#467a0e" stroke="#2f4d0c" stroke-width="0.9"/>
<rect x="371.70" y="334.20" width="9.2" height="8.8" fill="#467a0e" stroke="#2f4d0c" stroke-width="0.9"/>
<rect x="385.60" y="358.90" width="9.2" height="8.8" fill="#467a0e" stroke="#2f4d0c" stroke-width="0.9"/>
<rect x="401.70" y="356.00" width="9.2" height="8.8" fill="#467a0e" stroke="#2f4d0c" stroke-width="0.9"/>
<rect x="418.50" y="363.90" width="9.2" height="8.8" fill="#467a0e" stroke="#2f4d0c" stroke-width="0.9"/>
<rect x="435.20" y="386.70" width="9.2" height="8.8" fill="#467a0e" stroke="#2f4d0c" stroke-width="0.9"/>
<rect x="451.50" y="386.70" width="9.2" height="8.8" fill="#467a0e" stroke="#2f4d0c" stroke-width="0.9"/>
<rect x="467.80" y="396.60" width="9.2" height="8.8" fill="#467a0e" stroke="#2f4d0c" stroke-width="0.9"/>
<rect x="484.30" y="407.20" width="9.2" height="8.8" fill="#467a0e" stroke="#2f4d0c" stroke-width="0.9"/>
<circle cx="320.00" cy="309.00" r="4.4" fill="#f2f7e4" stroke="#3f5f12" stroke-width="1.8"/>
<circle cx="333.90" cy="365.20" r="4.4" fill="#ffffff" stroke="#3f5f12" stroke-width="1.8"/>
<circle cx="348.00" cy="353.20" r="4.4" fill="#ffffff" stroke="#3f5f12" stroke-width="1.8"/>
<circle cx="362.10" cy="370.50" r="4.4" fill="#ffffff" stroke="#3f5f12" stroke-width="1.8"/>
<circle cx="376.30" cy="408.20" r="4.4" fill="#ffffff" stroke="#3f5f12" stroke-width="1.8"/>
<circle cx="390.20" cy="428.20" r="4.4" fill="#ffffff" stroke="#3f5f12" stroke-width="1.8"/>
<circle cx="406.30" cy="427.80" r="4.4" fill="#ffffff" stroke="#3f5f12" stroke-width="1.8"/>
<circle cx="423.10" cy="427.80" r="4.4" fill="#ffffff" stroke="#3f5f12" stroke-width="1.8"/>
<circle cx="439.80" cy="428.30" r="4.4" fill="#ffffff" stroke="#3f5f12" stroke-width="1.8"/>
<circle cx="456.10" cy="424.40" r="4.4" fill="#ffffff" stroke="#3f5f12" stroke-width="1.8"/>
<circle cx="472.40" cy="424.20" r="4.4" fill="#ffffff" stroke="#3f5f12" stroke-width="1.8"/>
<circle cx="488.90" cy="425.80" r="4.4" fill="#ffffff" stroke="#3f5f12" stroke-width="1.8"/>
<polygon points="320.00,435.60 322.50,439.40 317.50,439.40" fill="#1414e0"/>
<polygon points="333.90,435.60 336.40,439.40 331.40,439.40" fill="#1414e0"/>
<polygon points="348.00,435.60 350.50,439.40 345.50,439.40" fill="#1414e0"/>
<polygon points="362.10,435.60 364.60,439.40 359.60,439.40" fill="#1414e0"/>
<polygon points="376.30,435.60 378.80,439.40 373.80,439.40" fill="#1414e0"/>
<polygon points="390.20,414.90 394.40,422.10 386.00,422.10" fill="#ffffff" stroke="#1414e0" stroke-width="1.8" stroke-linejoin="miter"/>
<line x1="387.60" y1="419.80" x2="392.80" y2="419.80" stroke="#1414e0" stroke-width="1.2"/>
<line x1="390.20" y1="417.30" x2="390.20" y2="424.50" stroke="#1414e0" stroke-width="1.2"/>
<polygon points="406.30,399.50 410.50,406.70 402.10,406.70" fill="#ffffff" stroke="#1414e0" stroke-width="1.8" stroke-linejoin="miter"/>
<line x1="403.70" y1="404.40" x2="408.90" y2="404.40" stroke="#1414e0" stroke-width="1.2"/>
<line x1="406.30" y1="401.90" x2="406.30" y2="409.10" stroke="#1414e0" stroke-width="1.2"/>
<polygon points="423.10,367.30 427.30,374.50 418.90,374.50" fill="#ffffff" stroke="#1414e0" stroke-width="1.8" stroke-linejoin="miter"/>
<line x1="420.50" y1="372.20" x2="425.70" y2="372.20" stroke="#1414e0" stroke-width="1.2"/>
<line x1="423.10" y1="369.70" x2="423.10" y2="376.90" stroke="#1414e0" stroke-width="1.2"/>
<polygon points="439.80,406.30 444.00,413.50 435.60,413.50" fill="#ffffff" stroke="#1414e0" stroke-width="1.8" stroke-linejoin="miter"/>
<line x1="437.20" y1="411.20" x2="442.40" y2="411.20" stroke="#1414e0" stroke-width="1.2"/>
<line x1="439.80" y1="408.70" x2="439.80" y2="415.90" stroke="#1414e0" stroke-width="1.2"/>
<polygon points="456.10,380.30 460.30,387.50 451.90,387.50" fill="#ffffff" stroke="#1414e0" stroke-width="1.8" stroke-linejoin="miter"/>
<line x1="453.50" y1="385.20" x2="458.70" y2="385.20" stroke="#1414e0" stroke-width="1.2"/>
<line x1="456.10" y1="382.70" x2="456.10" y2="389.90" stroke="#1414e0" stroke-width="1.2"/>
<polygon points="472.40,395.10 476.60,402.30 468.20,402.30" fill="#ffffff" stroke="#1414e0" stroke-width="1.8" stroke-linejoin="miter"/>
<line x1="469.80" y1="400.00" x2="475.00" y2="400.00" stroke="#1414e0" stroke-width="1.2"/>
<line x1="472.40" y1="397.50" x2="472.40" y2="404.70" stroke="#1414e0" stroke-width="1.2"/>
<polygon points="488.90,435.60 491.40,439.40 486.40,439.40" fill="#1414e0"/>
<text x="303.0" y="281.9" font-size="9.4" text-anchor="start" stroke="#1a1a1a" stroke-width="0.25" >Syn (100)</text>
<rect x="398.4" y="271.0" width="110.2" height="27.7" fill="#ffffff" stroke="#c8c8c8" stroke-width="0.8"/>
<line x1="400" y1="278.2" x2="423.6" y2="278.2" stroke="#3d5818" stroke-width="1.4"/>
<rect x="407.5" y="273.8" width="9.2" height="8.8" fill="#467a0e" stroke="#2f4d0c" stroke-width="0.9"/>
<line x1="400" y1="291.9" x2="423.6" y2="291.9" stroke="#3d5818" stroke-width="1.4"/>
<circle cx="412.1" cy="291.9" r="4.4" fill="#ffffff" stroke="#3f5f12" stroke-width="1.8"/>
<text x="428.5" y="281.8" font-size="11.2" text-anchor="start" stroke="#1a1a1a" stroke-width="0.25" >E//b 689 nm em</text>
<text x="428.5" y="295.0" font-size="11.2" text-anchor="start" stroke="#1a1a1a" stroke-width="0.25" >E//c 689 nm em</text>
<rect x="330.5" y="300.4" width="177.8" height="14.2" fill="#ffffff" stroke="#c8c8c8" stroke-width="0.8"/>
<line x1="333" y1="308.2" x2="356.3" y2="308.2" stroke="#c4c4c4" stroke-width="0.8"/>
<polygon points="344.20,303.10 348.40,310.30 340.00,310.30" fill="#ffffff" stroke="#1414e0" stroke-width="1.8" stroke-linejoin="miter"/>
<line x1="341.60" y1="308.00" x2="346.80" y2="308.00" stroke="#1414e0" stroke-width="1.2"/>
<line x1="344.20" y1="305.50" x2="344.20" y2="312.70" stroke="#1414e0" stroke-width="1.2"/>
<text x="359.7" y="311.6" font-size="11.2" text-anchor="start" stroke="#1a1a1a" stroke-width="0.25" >E//c&#160; 300 to 600nm integrated</text>
<text x="412.0" y="466.8" font-size="14.4" text-anchor="middle" stroke="#1a1a1a" stroke-width="0.25" >Excitation energy (eV)</text>
<text x="0" y="0" font-size="14.3" text-anchor="middle" stroke="#1a1a1a" stroke-width="0.25" transform="translate(285.7,354.3) rotate(-90)">Intensity (counts/photon)</text>
</svg>
</body></html>
